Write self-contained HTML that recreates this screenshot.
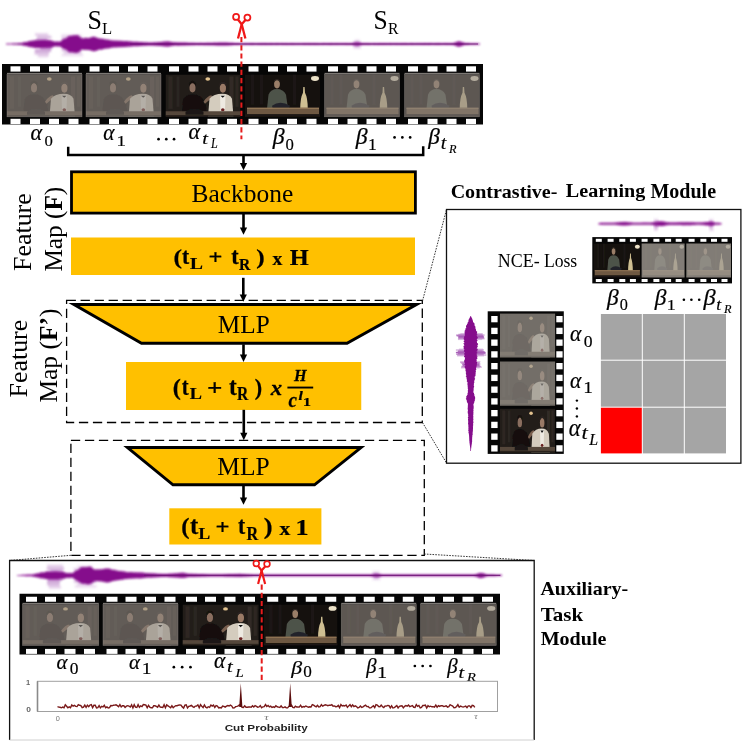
<!DOCTYPE html>
<html><head><meta charset="utf-8"><style>
html,body{margin:0;padding:0;background:#fff;width:745px;height:745px;overflow:hidden}
svg{display:block;will-change:transform}
</style></head><body>
<svg width="745" height="745" viewBox="0 0 745 745">
<defs>
<filter id="bl1" x="-10%" y="-100%" width="120%" height="300%"><feGaussianBlur stdDeviation="0.9"/></filter>
<filter id="bl2" x="-5%" y="-100%" width="110%" height="300%"><feGaussianBlur stdDeviation="1.5"/></filter>
<filter id="blv1" x="-100%" y="-5%" width="300%" height="110%"><feGaussianBlur stdDeviation="0.6"/></filter>
<filter id="blv2" x="-100%" y="-5%" width="300%" height="110%"><feGaussianBlur stdDeviation="1.5"/></filter>
<linearGradient id="hg" x1="0" y1="0" x2="0" y2="1"><stop offset="0" stop-color="#c890d4" stop-opacity="0.15"/><stop offset="0.25" stop-color="#b070c0" stop-opacity="0.8"/><stop offset="0.5" stop-color="#9a40aa" stop-opacity="0.9"/><stop offset="0.75" stop-color="#b070c0" stop-opacity="0.8"/><stop offset="1" stop-color="#c890d4" stop-opacity="0.15"/></linearGradient>
<linearGradient id="hgv" x1="0" y1="0" x2="1" y2="0"><stop offset="0" stop-color="#c890d4" stop-opacity="0.15"/><stop offset="0.25" stop-color="#b070c0" stop-opacity="0.8"/><stop offset="0.5" stop-color="#9a40aa" stop-opacity="0.9"/><stop offset="0.75" stop-color="#b070c0" stop-opacity="0.8"/><stop offset="1" stop-color="#c890d4" stop-opacity="0.15"/></linearGradient>
<filter id="pb" x="-10%" y="-10%" width="120%" height="120%"><feGaussianBlur stdDeviation="0.45"/></filter>
<symbol id="sA" viewBox="0 0 75 42" preserveAspectRatio="none">
  <rect width="75" height="42" fill="#221d19"/>
  <g filter="url(#pb)">
  <rect x="3" y="2" width="4" height="32" fill="#2e2824"/>
  <rect x="11" y="2" width="3" height="30" fill="#2c2622"/>
  <rect x="64" y="2" width="4" height="30" fill="#302a25"/>
  <rect x="70" y="2" width="3" height="30" fill="#2e2824"/>
  <ellipse cx="42.3" cy="4.5" rx="2.4" ry="1.7" fill="#e2c28e"/>
  <path d="M16 42 L17.5 25 Q20 19.5 27 19.5 Q34 19.5 37 24 L40 28 L42 42 Z" fill="#131010"/>
  <ellipse cx="27" cy="13.2" rx="3.0" ry="4.6" fill="#8a6e5e"/>
  <path d="M23.6 12 Q27 4.5 30.4 12 L30.6 8.5 Q27 4 23.4 8.5 Z" fill="#17120f"/>
  <path d="M38 27 Q42 21 46 20.5 L46.5 23.5 Q42.5 26 39.5 29 Z" fill="#7a6050"/>
  <path d="M42.5 42 L44 24 Q48 19 57 19 Q64 19 66.5 24 L68 42 Z" fill="#d4ccbe"/>
  <path d="M54.5 20 L60 20 L59.5 36 L55 36 Z" fill="#eeeae2"/>
  <path d="M55 21 L59.5 21 L57.2 23.2 Z" fill="#111"/>
  <ellipse cx="57.4" cy="13.5" rx="3.1" ry="4.6" fill="#9a7a66"/>
  <path d="M54 12 Q57.4 6 60.8 12 L60.8 9 Q57.4 5.5 54 9 Z" fill="#2a2420"/>
  <ellipse cx="57.3" cy="35" rx="1.8" ry="1.5" fill="#6a2020"/>
  <rect x="0" y="36.5" width="75" height="4" fill="#54463a"/>
  <path d="M20 37 Q29 31 38 37 L38 40 L20 40 Z" fill="#1a1816"/>
  <rect x="0" y="40.3" width="75" height="1.7" fill="#2a231d"/>
  </g>
</symbol>
<symbol id="sB" viewBox="0 0 75 42" preserveAspectRatio="none">
  <rect width="75" height="42" fill="#15110e"/>
  <g filter="url(#pb)">
  <rect x="6" y="0" width="3" height="30" fill="#1d1814"/>
  <rect x="15" y="0" width="3" height="30" fill="#1b1612"/>
  <rect x="48" y="0" width="3" height="30" fill="#1d1814"/>
  <ellipse cx="70" cy="4" rx="4" ry="2.4" fill="#ece2c8"/>
  <path d="M22 34 L23.5 20 Q26 14.5 32 14.5 Q38 14.5 41 20 L43 34 Z" fill="#4e524a"/>
  <ellipse cx="32" cy="9.5" rx="2.9" ry="4.3" fill="#9a7e68"/>
  <path d="M29 8 Q32 3.5 35 8 L35 6 Q32 3 29 6 Z" fill="#2a2420"/>
  <path d="M58 18 L58.3 12.5 L59.6 12.5 L60 18 Q62.8 23 62.8 34.5 L55.2 34.5 Q55.2 23 58 18 Z" fill="#cfbf92"/>
  <path d="M27 31 Q35 25 45 31 L43 35 L28 35 Z" fill="#22242a"/>
  <rect x="2" y="33" width="72" height="6.5" fill="#6e5842"/>
  <rect x="2" y="33" width="72" height="1.2" fill="#927656"/>
  <rect x="0" y="39.5" width="75" height="2.5" fill="#1e1813"/>
  </g>
</symbol>
</defs>
<rect width="745" height="745" fill="#fff"/>
<text transform="translate(87.50 28.63) scale(0.970 1)" font-size="26.77" font-family="Liberation Serif">S</text>
<text transform="translate(101.89 33.70) scale(0.948 1)" font-size="17.56" font-family="Liberation Serif">L</text>
<text transform="translate(373.53 28.63) scale(0.953 1)" font-size="26.77" font-family="Liberation Serif">S</text>
<text transform="translate(388.02 33.70) scale(0.893 1)" font-size="17.56" font-family="Liberation Serif">R</text>
<g filter="url(#bl1)"><rect x="34.90" y="33.00" width="13.30" height="3.07" fill="#a860b8" opacity="0.25"/><rect x="37.14" y="35.67" width="14.20" height="3.07" fill="#a860b8" opacity="0.38"/><rect x="36.20" y="38.33" width="11.33" height="3.07" fill="#a860b8" opacity="0.50"/><rect x="37.86" y="41.00" width="12.69" height="3.07" fill="#a860b8" opacity="0.62"/><rect x="34.54" y="43.67" width="17.34" height="3.07" fill="#a860b8" opacity="0.75"/><rect x="40.24" y="46.33" width="11.58" height="3.07" fill="#a860b8" opacity="0.62"/><rect x="34.87" y="49.00" width="16.16" height="3.07" fill="#a860b8" opacity="0.50"/><rect x="34.61" y="51.67" width="14.38" height="3.07" fill="#a860b8" opacity="0.38"/><rect x="37.77" y="54.33" width="10.80" height="3.07" fill="#a860b8" opacity="0.25"/></g>
<g filter="url(#bl1)"><rect x="61.49" y="34.00" width="19.78" height="2.84" fill="#a860b8" opacity="0.18"/><rect x="61.49" y="36.44" width="20.92" height="2.84" fill="#a860b8" opacity="0.28"/><rect x="62.17" y="38.89" width="20.45" height="2.84" fill="#a860b8" opacity="0.37"/><rect x="62.65" y="41.33" width="15.68" height="2.84" fill="#a860b8" opacity="0.46"/><rect x="61.11" y="43.78" width="22.72" height="2.84" fill="#a860b8" opacity="0.55"/><rect x="65.74" y="46.22" width="14.84" height="2.84" fill="#a860b8" opacity="0.46"/><rect x="61.55" y="48.67" width="19.55" height="2.84" fill="#a860b8" opacity="0.37"/><rect x="63.96" y="51.11" width="17.56" height="2.84" fill="#a860b8" opacity="0.28"/><rect x="61.47" y="53.56" width="21.55" height="2.84" fill="#a860b8" opacity="0.18"/></g>
<g filter="url(#bl1)"><rect x="354.85" y="39.50" width="5.13" height="1.40" fill="#a860b8" opacity="0.17"/><rect x="354.49" y="40.50" width="4.97" height="1.40" fill="#a860b8" opacity="0.25"/><rect x="353.12" y="41.50" width="7.19" height="1.40" fill="#a860b8" opacity="0.33"/><rect x="354.05" y="42.50" width="6.64" height="1.40" fill="#a860b8" opacity="0.42"/><rect x="353.21" y="43.50" width="7.13" height="1.40" fill="#a860b8" opacity="0.50"/><rect x="353.31" y="44.50" width="5.74" height="1.40" fill="#a860b8" opacity="0.42"/><rect x="354.37" y="45.50" width="4.80" height="1.40" fill="#a860b8" opacity="0.33"/><rect x="353.16" y="46.50" width="7.78" height="1.40" fill="#a860b8" opacity="0.25"/><rect x="353.97" y="47.50" width="6.90" height="1.40" fill="#a860b8" opacity="0.17"/></g>
<path d="M6.00 43.61 L6.50 43.60 L7.00 43.59 L7.50 43.61 L8.00 43.58 L8.50 43.53 L9.00 43.52 L9.50 43.51 L10.00 43.49 L10.50 43.48 L11.00 43.44 L11.50 43.41 L12.00 43.42 L12.50 43.35 L13.00 43.33 L13.50 43.31 L14.00 43.31 L14.50 43.28 L15.00 43.21 L15.50 43.26 L16.00 43.15 L16.50 43.17 L17.00 43.16 L17.50 43.16 L18.00 43.12 L18.50 43.10 L19.00 43.07 L19.50 43.08 L20.00 43.06 L20.50 43.03 L21.00 42.99 L21.50 42.89 L22.00 42.85 L22.50 42.63 L23.00 42.62 L23.50 42.43 L24.00 42.33 L24.50 42.09 L25.00 42.06 L25.50 41.97 L26.00 41.91 L26.50 41.96 L27.00 41.89 L27.50 41.66 L28.00 41.59 L28.50 41.28 L29.00 41.31 L29.50 41.11 L30.00 40.86 L30.50 41.00 L31.00 40.89 L31.50 40.85 L32.00 40.62 L32.50 40.73 L33.00 40.71 L33.50 40.30 L34.00 40.39 L34.50 40.36 L35.00 40.47 L35.50 40.16 L36.00 40.14 L36.50 40.12 L37.00 40.10 L37.50 40.41 L38.00 40.10 L38.50 40.29 L39.00 40.13 L39.50 40.22 L40.00 40.21 L40.50 40.23 L41.00 40.01 L41.50 40.09 L42.00 40.20 L42.50 39.97 L43.00 40.25 L43.50 40.01 L44.00 40.18 L44.50 39.95 L45.00 39.96 L45.50 40.22 L46.00 40.00 L46.50 40.34 L47.00 40.24 L47.50 40.15 L48.00 40.46 L48.50 40.22 L49.00 40.24 L49.50 40.55 L50.00 40.27 L50.50 40.50 L51.00 40.56 L51.50 40.49 L52.00 41.01 L52.50 40.86 L53.00 41.20 L53.50 41.20 L54.00 41.40 L54.50 41.52 L55.00 41.66 L55.50 41.68 L56.00 41.57 L56.50 41.51 L57.00 41.48 L57.50 41.48 L58.00 41.48 L58.50 41.74 L59.00 41.69 L59.50 41.55 L60.00 41.62 L60.50 41.45 L61.00 41.28 L61.50 40.79 L62.00 40.37 L62.50 39.81 L63.00 39.59 L63.50 38.86 L64.00 38.81 L64.50 38.86 L65.00 39.04 L65.50 38.64 L66.00 38.20 L66.50 37.55 L67.00 37.71 L67.50 37.26 L68.00 36.13 L68.50 36.60 L69.00 36.12 L69.50 35.91 L70.00 35.61 L70.50 36.00 L71.00 36.05 L71.50 35.42 L72.00 36.02 L72.50 35.68 L73.00 35.22 L73.50 35.14 L74.00 35.47 L74.50 35.35 L75.00 35.38 L75.50 35.30 L76.00 35.19 L76.50 35.66 L77.00 35.28 L77.50 34.83 L78.00 35.11 L78.50 36.08 L79.00 36.61 L79.50 36.56 L80.00 36.90 L80.50 37.37 L81.00 38.18 L81.50 38.47 L82.00 38.01 L82.50 38.48 L83.00 37.92 L83.50 38.50 L84.00 38.41 L84.50 38.00 L85.00 37.78 L85.50 37.86 L86.00 37.86 L86.50 37.88 L87.00 37.84 L87.50 38.32 L88.00 37.95 L88.50 38.16 L89.00 38.09 L89.50 37.62 L90.00 37.79 L90.50 37.66 L91.00 37.73 L91.50 36.87 L92.00 36.91 L92.50 36.83 L93.00 36.74 L93.50 36.84 L94.00 36.46 L94.50 37.18 L95.00 36.56 L95.50 37.10 L96.00 37.47 L96.50 37.64 L97.00 37.74 L97.50 37.66 L98.00 38.13 L98.50 38.21 L99.00 38.22 L99.50 38.56 L100.00 38.41 L100.50 38.64 L101.00 38.60 L101.50 38.80 L102.00 38.70 L102.50 38.83 L103.00 38.76 L103.50 39.10 L104.00 39.01 L104.50 39.20 L105.00 39.44 L105.50 39.62 L106.00 39.41 L106.50 39.32 L107.00 39.71 L107.50 39.75 L108.00 39.46 L108.50 39.85 L109.00 39.90 L109.50 39.79 L110.00 40.20 L110.50 40.20 L111.00 40.16 L111.50 40.52 L112.00 40.42 L112.50 40.60 L113.00 40.36 L113.50 40.59 L114.00 40.75 L114.50 40.84 L115.00 40.54 L115.50 40.53 L116.00 40.60 L116.50 40.80 L117.00 40.67 L117.50 40.84 L118.00 40.59 L118.50 40.77 L119.00 40.81 L119.50 40.74 L120.00 40.82 L120.50 40.82 L121.00 41.01 L121.50 40.86 L122.00 40.78 L122.50 41.01 L123.00 40.93 L123.50 40.93 L124.00 41.06 L124.50 41.15 L125.00 40.91 L125.50 40.92 L126.00 41.11 L126.50 40.92 L127.00 41.08 L127.50 41.03 L128.00 41.23 L128.50 41.21 L129.00 41.33 L129.50 41.46 L130.00 41.52 L130.50 41.37 L131.00 41.61 L131.50 41.60 L132.00 41.54 L132.50 41.65 L133.00 41.74 L133.50 41.74 L134.00 41.86 L134.50 41.72 L135.00 41.72 L135.50 41.68 L136.00 41.80 L136.50 41.78 L137.00 41.79 L137.50 41.76 L138.00 41.85 L138.50 42.02 L139.00 41.88 L139.50 41.95 L140.00 42.06 L140.50 42.12 L141.00 42.01 L141.50 42.07 L142.00 42.03 L142.50 42.09 L143.00 42.28 L143.50 42.28 L144.00 42.25 L144.50 42.32 L145.00 42.28 L145.50 42.28 L146.00 42.29 L146.50 42.36 L147.00 42.37 L147.50 42.38 L148.00 42.42 L148.50 42.55 L149.00 42.57 L149.50 42.56 L150.00 42.46 L150.50 42.51 L151.00 42.52 L151.50 42.42 L152.00 42.51 L152.50 42.38 L153.00 42.42 L153.50 42.34 L154.00 42.42 L154.50 42.23 L155.00 42.26 L155.50 42.27 L156.00 42.20 L156.50 42.25 L157.00 42.18 L157.50 42.18 L158.00 42.06 L158.50 41.98 L159.00 42.04 L159.50 42.12 L160.00 42.07 L160.50 42.00 L161.00 41.94 L161.50 42.02 L162.00 41.82 L162.50 41.75 L163.00 41.65 L163.50 41.77 L164.00 41.55 L164.50 41.62 L165.00 41.46 L165.50 41.44 L166.00 41.58 L166.50 41.51 L167.00 41.54 L167.50 41.29 L168.00 41.30 L168.50 41.40 L169.00 41.43 L169.50 41.69 L170.00 41.59 L170.50 41.86 L171.00 42.00 L171.50 42.03 L172.00 41.99 L172.50 42.12 L173.00 42.17 L173.50 42.22 L174.00 42.37 L174.50 42.33 L175.00 42.44 L175.50 42.36 L176.00 42.36 L176.50 42.41 L177.00 42.37 L177.50 42.42 L178.00 42.39 L178.50 42.48 L179.00 42.41 L179.50 42.37 L180.00 42.38 L180.50 42.49 L181.00 42.55 L181.50 42.40 L182.00 42.48 L182.50 42.58 L183.00 42.57 L183.50 42.60 L184.00 42.53 L184.50 42.61 L185.00 42.62 L185.50 42.60 L186.00 42.59 L186.50 42.61 L187.00 42.69 L187.50 42.60 L188.00 42.74 L188.50 42.73 L189.00 42.76 L189.50 42.75 L190.00 42.71 L190.50 42.70 L191.00 42.78 L191.50 42.77 L192.00 42.73 L192.50 42.75 L193.00 42.80 L193.50 42.78 L194.00 42.85 L194.50 42.90 L195.00 42.82 L195.50 42.84 L196.00 42.90 L196.50 42.81 L197.00 42.89 L197.50 42.92 L198.00 42.83 L198.50 42.85 L199.00 42.88 L199.50 42.89 L200.00 42.84 L200.50 42.84 L201.00 42.86 L201.50 42.83 L202.00 42.92 L202.50 42.93 L203.00 42.85 L203.50 42.87 L204.00 42.93 L204.50 42.89 L205.00 42.87 L205.50 42.81 L206.00 42.89 L206.50 42.83 L207.00 42.86 L207.50 42.77 L208.00 42.72 L208.50 42.80 L209.00 42.79 L209.50 42.75 L210.00 42.76 L210.50 42.76 L211.00 42.65 L211.50 42.73 L212.00 42.64 L212.50 42.73 L213.00 42.66 L213.50 42.72 L214.00 42.59 L214.50 42.54 L215.00 42.53 L215.50 42.65 L216.00 42.60 L216.50 42.65 L217.00 42.64 L217.50 42.60 L218.00 42.56 L218.50 42.62 L219.00 42.51 L219.50 42.45 L220.00 42.56 L220.50 42.47 L221.00 42.51 L221.50 42.50 L222.00 42.56 L222.50 42.47 L223.00 42.43 L223.50 42.47 L224.00 42.45 L224.50 42.53 L225.00 42.58 L225.50 42.50 L226.00 42.54 L226.50 42.59 L227.00 42.53 L227.50 42.53 L228.00 42.66 L228.50 42.66 L229.00 42.62 L229.50 42.68 L230.00 42.71 L230.50 42.75 L231.00 42.74 L231.50 42.86 L232.00 42.84 L232.50 42.80 L233.00 42.86 L233.50 42.85 L234.00 42.94 L234.50 42.98 L235.00 42.92 L235.50 43.02 L236.00 43.04 L236.50 43.06 L237.00 43.10 L237.50 43.10 L238.00 43.07 L238.50 43.05 L239.00 43.06 L239.50 43.12 L240.00 43.15 L240.50 43.10 L241.00 43.10 L241.50 43.13 L242.00 43.14 L242.50 43.13 L243.00 43.08 L243.50 43.14 L244.00 43.07 L244.50 43.13 L245.00 43.06 L245.50 43.05 L246.00 43.11 L246.50 43.11 L247.00 43.12 L247.50 43.14 L248.00 43.12 L248.50 43.15 L249.00 43.05 L249.50 43.05 L250.00 43.12 L250.50 43.10 L251.00 43.12 L251.50 43.12 L252.00 43.07 L252.50 43.10 L253.00 43.11 L253.50 43.06 L254.00 43.09 L254.50 43.06 L255.00 43.05 L255.50 43.14 L256.00 43.13 L256.50 43.05 L257.00 43.06 L257.50 43.15 L258.00 43.07 L258.50 43.08 L259.00 43.07 L259.50 43.10 L260.00 43.14 L260.50 43.12 L261.00 43.11 L261.50 43.12 L262.00 43.05 L262.50 43.06 L263.00 43.12 L263.50 43.12 L264.00 43.10 L264.50 43.12 L265.00 43.12 L265.50 43.11 L266.00 43.10 L266.50 43.05 L267.00 43.11 L267.50 43.15 L268.00 43.06 L268.50 43.15 L269.00 43.11 L269.50 43.11 L270.00 43.09 L270.50 43.11 L271.00 43.08 L271.50 43.12 L272.00 43.11 L272.50 43.08 L273.00 43.09 L273.50 43.13 L274.00 43.09 L274.50 43.15 L275.00 43.12 L275.50 43.10 L276.00 43.10 L276.50 43.06 L277.00 43.06 L277.50 43.08 L278.00 43.06 L278.50 43.10 L279.00 43.12 L279.50 43.07 L280.00 43.14 L280.50 43.12 L281.00 43.06 L281.50 43.12 L282.00 43.10 L282.50 43.09 L283.00 43.11 L283.50 43.05 L284.00 43.14 L284.50 43.07 L285.00 43.15 L285.50 43.10 L286.00 43.06 L286.50 43.12 L287.00 43.09 L287.50 43.13 L288.00 43.14 L288.50 43.15 L289.00 43.10 L289.50 43.14 L290.00 43.10 L290.50 43.10 L291.00 43.05 L291.50 43.10 L292.00 43.12 L292.50 43.14 L293.00 43.09 L293.50 43.07 L294.00 43.06 L294.50 43.13 L295.00 43.11 L295.50 43.13 L296.00 43.13 L296.50 43.05 L297.00 43.06 L297.50 43.13 L298.00 43.15 L298.50 43.11 L299.00 43.06 L299.50 43.11 L300.00 43.13 L300.50 43.13 L301.00 43.12 L301.50 43.13 L302.00 43.09 L302.50 43.08 L303.00 43.08 L303.50 43.14 L304.00 43.11 L304.50 43.09 L305.00 43.11 L305.50 43.07 L306.00 43.10 L306.50 43.13 L307.00 43.08 L307.50 43.07 L308.00 43.12 L308.50 43.10 L309.00 43.08 L309.50 43.07 L310.00 43.14 L310.50 43.06 L311.00 43.10 L311.50 43.11 L312.00 43.09 L312.50 43.13 L313.00 43.07 L313.50 43.12 L314.00 43.06 L314.50 43.05 L315.00 43.07 L315.50 43.15 L316.00 43.07 L316.50 43.10 L317.00 43.13 L317.50 43.09 L318.00 43.14 L318.50 43.12 L319.00 43.14 L319.50 43.13 L320.00 43.09 L320.50 43.15 L321.00 43.13 L321.50 43.14 L322.00 43.10 L322.50 43.06 L323.00 43.11 L323.50 43.12 L324.00 43.05 L324.50 43.05 L325.00 43.11 L325.50 43.05 L326.00 43.09 L326.50 43.13 L327.00 43.05 L327.50 43.07 L328.00 43.14 L328.50 43.07 L329.00 43.10 L329.50 43.12 L330.00 43.14 L330.50 43.12 L331.00 43.11 L331.50 43.07 L332.00 43.08 L332.50 43.07 L333.00 43.10 L333.50 43.11 L334.00 43.14 L334.50 43.13 L335.00 43.10 L335.50 43.06 L336.00 43.11 L336.50 43.09 L337.00 43.05 L337.50 43.14 L338.00 43.07 L338.50 43.07 L339.00 43.10 L339.50 43.09 L340.00 43.14 L340.50 43.06 L341.00 43.15 L341.50 43.07 L342.00 43.10 L342.50 43.09 L343.00 43.08 L343.50 43.12 L344.00 43.14 L344.50 43.10 L345.00 43.05 L345.50 43.07 L346.00 43.07 L346.50 43.08 L347.00 43.13 L347.50 43.07 L348.00 43.13 L348.50 43.14 L349.00 43.09 L349.50 43.09 L350.00 43.15 L350.50 43.11 L351.00 43.06 L351.50 43.00 L352.00 42.96 L352.50 42.92 L353.00 42.89 L353.50 42.76 L354.00 42.80 L354.50 42.66 L355.00 42.63 L355.50 42.49 L356.00 42.56 L356.50 42.58 L357.00 42.50 L357.50 42.43 L358.00 42.62 L358.50 42.66 L359.00 42.56 L359.50 42.75 L360.00 42.77 L360.50 42.83 L361.00 42.91 L361.50 42.98 L362.00 43.04 L362.50 43.07 L363.00 43.04 L363.50 43.06 L364.00 43.09 L364.50 43.08 L365.00 43.05 L365.50 43.15 L366.00 43.05 L366.50 43.08 L367.00 43.11 L367.50 43.09 L368.00 43.12 L368.50 43.13 L369.00 43.13 L369.50 43.08 L370.00 43.05 L370.50 43.13 L371.00 43.15 L371.50 43.09 L372.00 43.13 L372.50 43.14 L373.00 43.10 L373.50 43.06 L374.00 43.12 L374.50 43.15 L375.00 43.07 L375.50 43.08 L376.00 43.13 L376.50 43.13 L377.00 43.08 L377.50 43.14 L378.00 43.10 L378.50 43.10 L379.00 43.13 L379.50 43.08 L380.00 43.06 L380.50 43.06 L381.00 43.08 L381.50 43.14 L382.00 43.06 L382.50 43.09 L383.00 43.12 L383.50 43.06 L384.00 43.14 L384.50 43.06 L385.00 43.12 L385.50 43.05 L386.00 43.15 L386.50 43.12 L387.00 43.05 L387.50 43.14 L388.00 43.13 L388.50 43.05 L389.00 43.06 L389.50 43.12 L390.00 43.10 L390.50 43.11 L391.00 43.12 L391.50 43.05 L392.00 43.07 L392.50 43.13 L393.00 43.14 L393.50 43.06 L394.00 43.09 L394.50 43.11 L395.00 43.06 L395.50 43.12 L396.00 43.13 L396.50 43.12 L397.00 43.14 L397.50 43.11 L398.00 43.08 L398.50 43.13 L399.00 43.09 L399.50 43.06 L400.00 43.14 L400.50 43.14 L401.00 43.10 L401.50 43.12 L402.00 43.10 L402.50 43.11 L403.00 43.10 L403.50 43.14 L404.00 43.10 L404.50 43.10 L405.00 43.11 L405.50 43.11 L406.00 43.10 L406.50 43.10 L407.00 43.10 L407.50 43.13 L408.00 43.14 L408.50 43.14 L409.00 43.13 L409.50 43.10 L410.00 43.06 L410.50 43.05 L411.00 43.11 L411.50 43.07 L412.00 43.07 L412.50 43.05 L413.00 43.06 L413.50 43.15 L414.00 43.14 L414.50 43.06 L415.00 43.08 L415.50 43.13 L416.00 43.15 L416.50 43.05 L417.00 43.08 L417.50 43.09 L418.00 43.08 L418.50 43.13 L419.00 43.05 L419.50 43.09 L420.00 43.06 L420.50 43.10 L421.00 43.14 L421.50 43.07 L422.00 43.12 L422.50 43.14 L423.00 43.11 L423.50 43.10 L424.00 43.12 L424.50 43.07 L425.00 43.12 L425.50 43.05 L426.00 43.09 L426.50 43.05 L427.00 43.13 L427.50 43.12 L428.00 43.11 L428.50 43.08 L429.00 43.08 L429.50 43.09 L430.00 43.10 L430.50 43.06 L431.00 43.07 L431.50 43.06 L432.00 43.10 L432.50 43.08 L433.00 43.13 L433.50 43.09 L434.00 43.15 L434.50 43.13 L435.00 43.10 L435.50 43.12 L436.00 43.07 L436.50 43.15 L437.00 43.10 L437.50 43.07 L438.00 43.12 L438.50 43.09 L439.00 43.06 L439.50 43.12 L440.00 43.09 L440.50 43.10 L441.00 43.15 L441.50 43.14 L442.00 43.06 L442.50 43.13 L443.00 43.09 L443.50 43.07 L444.00 43.05 L444.50 43.12 L445.00 43.06 L445.50 43.09 L446.00 43.11 L446.50 43.15 L447.00 43.06 L447.50 43.08 L448.00 43.05 L448.50 43.12 L449.00 43.13 L449.50 43.14 L450.00 43.11 L450.50 43.07 L451.00 43.06 L451.50 43.13 L452.00 43.11 L452.50 43.03 L453.00 42.95 L453.50 42.92 L454.00 42.73 L454.50 42.63 L455.00 42.41 L455.50 42.17 L456.00 42.03 L456.50 41.97 L457.00 41.74 L457.50 41.49 L458.00 41.38 L458.50 41.53 L459.00 41.30 L459.50 41.34 L460.00 41.58 L460.50 41.68 L461.00 41.72 L461.50 41.93 L462.00 41.98 L462.50 42.28 L463.00 42.44 L463.50 42.60 L464.00 42.69 L464.50 42.87 L465.00 43.04 L465.50 43.04 L466.00 43.13 L466.50 43.10 L467.00 43.09 L467.50 43.09 L468.00 43.07 L468.50 43.12 L469.00 43.12 L469.50 43.11 L470.00 43.13 L470.50 43.16 L471.00 43.18 L471.50 43.20 L472.00 43.18 L472.50 43.24 L473.00 43.26 L473.50 43.30 L474.00 43.26 L474.50 43.33 L475.00 43.35 L475.50 43.33 L476.00 43.35 L476.50 43.34 L477.00 43.34 L477.50 43.34 L478.00 43.41 L478.50 43.42 L479.00 43.38 L479.50 43.40 L480.00 43.39 L480.00 44.59 L479.50 44.63 L479.00 44.58 L478.50 44.59 L478.00 44.65 L477.50 44.62 L477.00 44.62 L476.50 44.63 L476.00 44.69 L475.50 44.64 L475.00 44.69 L474.50 44.73 L474.00 44.74 L473.50 44.77 L473.00 44.75 L472.50 44.79 L472.00 44.81 L471.50 44.77 L471.00 44.78 L470.50 44.81 L470.00 44.85 L469.50 44.81 L469.00 44.87 L468.50 44.92 L468.00 44.84 L467.50 44.92 L467.00 44.89 L466.50 44.89 L466.00 44.92 L465.50 44.94 L465.00 45.02 L464.50 45.07 L464.00 45.29 L463.50 45.36 L463.00 45.60 L462.50 45.76 L462.00 45.97 L461.50 46.05 L461.00 46.35 L460.50 46.47 L460.00 46.55 L459.50 46.54 L459.00 46.75 L458.50 46.68 L458.00 46.62 L457.50 46.42 L457.00 46.39 L456.50 46.12 L456.00 45.93 L455.50 45.65 L455.00 45.52 L454.50 45.37 L454.00 45.28 L453.50 45.10 L453.00 45.02 L452.50 44.95 L452.00 44.92 L451.50 44.89 L451.00 44.85 L450.50 44.92 L450.00 44.94 L449.50 44.93 L449.00 44.93 L448.50 44.86 L448.00 44.87 L447.50 44.91 L447.00 44.95 L446.50 44.95 L446.00 44.92 L445.50 44.86 L445.00 44.93 L444.50 44.87 L444.00 44.86 L443.50 44.87 L443.00 44.85 L442.50 44.92 L442.00 44.91 L441.50 44.86 L441.00 44.85 L440.50 44.88 L440.00 44.89 L439.50 44.85 L439.00 44.90 L438.50 44.90 L438.00 44.91 L437.50 44.88 L437.00 44.85 L436.50 44.89 L436.00 44.92 L435.50 44.92 L435.00 44.91 L434.50 44.95 L434.00 44.87 L433.50 44.91 L433.00 44.86 L432.50 44.87 L432.00 44.89 L431.50 44.85 L431.00 44.88 L430.50 44.87 L430.00 44.90 L429.50 44.90 L429.00 44.91 L428.50 44.90 L428.00 44.95 L427.50 44.91 L427.00 44.86 L426.50 44.89 L426.00 44.89 L425.50 44.92 L425.00 44.85 L424.50 44.93 L424.00 44.88 L423.50 44.92 L423.00 44.89 L422.50 44.94 L422.00 44.87 L421.50 44.94 L421.00 44.92 L420.50 44.92 L420.00 44.89 L419.50 44.86 L419.00 44.87 L418.50 44.90 L418.00 44.85 L417.50 44.93 L417.00 44.93 L416.50 44.87 L416.00 44.90 L415.50 44.92 L415.00 44.85 L414.50 44.88 L414.00 44.86 L413.50 44.94 L413.00 44.91 L412.50 44.92 L412.00 44.93 L411.50 44.89 L411.00 44.86 L410.50 44.85 L410.00 44.94 L409.50 44.94 L409.00 44.85 L408.50 44.93 L408.00 44.94 L407.50 44.95 L407.00 44.92 L406.50 44.89 L406.00 44.90 L405.50 44.85 L405.00 44.89 L404.50 44.94 L404.00 44.89 L403.50 44.94 L403.00 44.86 L402.50 44.93 L402.00 44.93 L401.50 44.88 L401.00 44.89 L400.50 44.88 L400.00 44.88 L399.50 44.88 L399.00 44.85 L398.50 44.86 L398.00 44.91 L397.50 44.88 L397.00 44.94 L396.50 44.92 L396.00 44.95 L395.50 44.95 L395.00 44.87 L394.50 44.85 L394.00 44.86 L393.50 44.94 L393.00 44.95 L392.50 44.87 L392.00 44.85 L391.50 44.93 L391.00 44.94 L390.50 44.90 L390.00 44.91 L389.50 44.87 L389.00 44.88 L388.50 44.87 L388.00 44.87 L387.50 44.94 L387.00 44.88 L386.50 44.89 L386.00 44.95 L385.50 44.87 L385.00 44.89 L384.50 44.89 L384.00 44.87 L383.50 44.89 L383.00 44.94 L382.50 44.95 L382.00 44.86 L381.50 44.93 L381.00 44.95 L380.50 44.93 L380.00 44.87 L379.50 44.92 L379.00 44.89 L378.50 44.89 L378.00 44.89 L377.50 44.93 L377.00 44.92 L376.50 44.91 L376.00 44.87 L375.50 44.88 L375.00 44.89 L374.50 44.93 L374.00 44.89 L373.50 44.91 L373.00 44.87 L372.50 44.87 L372.00 44.87 L371.50 44.91 L371.00 44.87 L370.50 44.88 L370.00 44.90 L369.50 44.93 L369.00 44.88 L368.50 44.90 L368.00 44.93 L367.50 44.85 L367.00 44.90 L366.50 44.91 L366.00 44.89 L365.50 44.92 L365.00 44.85 L364.50 44.90 L364.00 44.85 L363.50 44.91 L363.00 44.94 L362.50 44.92 L362.00 45.08 L361.50 45.13 L361.00 45.15 L360.50 45.17 L360.00 45.26 L359.50 45.35 L359.00 45.45 L358.50 45.46 L358.00 45.46 L357.50 45.48 L357.00 45.45 L356.50 45.49 L356.00 45.55 L355.50 45.37 L355.00 45.32 L354.50 45.34 L354.00 45.33 L353.50 45.20 L353.00 45.08 L352.50 45.07 L352.00 45.05 L351.50 44.98 L351.00 44.91 L350.50 44.88 L350.00 44.85 L349.50 44.88 L349.00 44.90 L348.50 44.88 L348.00 44.89 L347.50 44.88 L347.00 44.89 L346.50 44.88 L346.00 44.89 L345.50 44.89 L345.00 44.86 L344.50 44.88 L344.00 44.85 L343.50 44.92 L343.00 44.85 L342.50 44.87 L342.00 44.95 L341.50 44.89 L341.00 44.85 L340.50 44.86 L340.00 44.91 L339.50 44.86 L339.00 44.92 L338.50 44.86 L338.00 44.90 L337.50 44.95 L337.00 44.87 L336.50 44.93 L336.00 44.85 L335.50 44.92 L335.00 44.95 L334.50 44.93 L334.00 44.92 L333.50 44.85 L333.00 44.91 L332.50 44.87 L332.00 44.89 L331.50 44.90 L331.00 44.94 L330.50 44.90 L330.00 44.92 L329.50 44.93 L329.00 44.95 L328.50 44.87 L328.00 44.92 L327.50 44.94 L327.00 44.93 L326.50 44.87 L326.00 44.90 L325.50 44.87 L325.00 44.87 L324.50 44.90 L324.00 44.86 L323.50 44.88 L323.00 44.85 L322.50 44.90 L322.00 44.95 L321.50 44.86 L321.00 44.90 L320.50 44.90 L320.00 44.86 L319.50 44.89 L319.00 44.89 L318.50 44.92 L318.00 44.91 L317.50 44.89 L317.00 44.92 L316.50 44.91 L316.00 44.88 L315.50 44.92 L315.00 44.88 L314.50 44.94 L314.00 44.90 L313.50 44.94 L313.00 44.91 L312.50 44.86 L312.00 44.93 L311.50 44.90 L311.00 44.94 L310.50 44.90 L310.00 44.90 L309.50 44.91 L309.00 44.88 L308.50 44.87 L308.00 44.95 L307.50 44.95 L307.00 44.87 L306.50 44.94 L306.00 44.91 L305.50 44.94 L305.00 44.85 L304.50 44.91 L304.00 44.90 L303.50 44.93 L303.00 44.91 L302.50 44.87 L302.00 44.87 L301.50 44.89 L301.00 44.86 L300.50 44.92 L300.00 44.87 L299.50 44.89 L299.00 44.85 L298.50 44.94 L298.00 44.90 L297.50 44.87 L297.00 44.89 L296.50 44.86 L296.00 44.93 L295.50 44.94 L295.00 44.88 L294.50 44.85 L294.00 44.93 L293.50 44.94 L293.00 44.88 L292.50 44.90 L292.00 44.94 L291.50 44.87 L291.00 44.92 L290.50 44.88 L290.00 44.94 L289.50 44.87 L289.00 44.91 L288.50 44.95 L288.00 44.92 L287.50 44.89 L287.00 44.94 L286.50 44.89 L286.00 44.94 L285.50 44.89 L285.00 44.85 L284.50 44.95 L284.00 44.89 L283.50 44.92 L283.00 44.86 L282.50 44.92 L282.00 44.89 L281.50 44.89 L281.00 44.87 L280.50 44.85 L280.00 44.85 L279.50 44.91 L279.00 44.87 L278.50 44.94 L278.00 44.89 L277.50 44.86 L277.00 44.89 L276.50 44.94 L276.00 44.93 L275.50 44.95 L275.00 44.85 L274.50 44.88 L274.00 44.86 L273.50 44.89 L273.00 44.86 L272.50 44.94 L272.00 44.89 L271.50 44.90 L271.00 44.89 L270.50 44.94 L270.00 44.94 L269.50 44.87 L269.00 44.95 L268.50 44.94 L268.00 44.93 L267.50 44.89 L267.00 44.91 L266.50 44.90 L266.00 44.94 L265.50 44.90 L265.00 44.95 L264.50 44.92 L264.00 44.93 L263.50 44.86 L263.00 44.95 L262.50 44.94 L262.00 44.95 L261.50 44.91 L261.00 44.88 L260.50 44.90 L260.00 44.91 L259.50 44.89 L259.00 44.86 L258.50 44.90 L258.00 44.95 L257.50 44.94 L257.00 44.86 L256.50 44.89 L256.00 44.85 L255.50 44.87 L255.00 44.94 L254.50 44.87 L254.00 44.95 L253.50 44.87 L253.00 44.90 L252.50 44.90 L252.00 44.91 L251.50 44.93 L251.00 44.85 L250.50 44.92 L250.00 44.95 L249.50 44.87 L249.00 44.95 L248.50 44.87 L248.00 44.94 L247.50 44.86 L247.00 44.86 L246.50 44.95 L246.00 44.86 L245.50 44.90 L245.00 44.85 L244.50 44.93 L244.00 44.87 L243.50 44.85 L243.00 44.92 L242.50 44.95 L242.00 44.94 L241.50 44.95 L241.00 44.85 L240.50 44.87 L240.00 44.87 L239.50 44.95 L239.00 44.85 L238.50 44.93 L238.00 44.95 L237.50 44.89 L237.00 44.92 L236.50 45.02 L236.00 44.94 L235.50 44.99 L235.00 45.08 L234.50 45.02 L234.00 45.11 L233.50 45.05 L233.00 45.08 L232.50 45.21 L232.00 45.18 L231.50 45.22 L231.00 45.29 L230.50 45.22 L230.00 45.29 L229.50 45.23 L229.00 45.40 L228.50 45.41 L228.00 45.38 L227.50 45.34 L227.00 45.41 L226.50 45.43 L226.00 45.43 L225.50 45.55 L225.00 45.42 L224.50 45.49 L224.00 45.51 L223.50 45.58 L223.00 45.49 L222.50 45.57 L222.00 45.41 L221.50 45.46 L221.00 45.55 L220.50 45.54 L220.00 45.42 L219.50 45.53 L219.00 45.50 L218.50 45.45 L218.00 45.41 L217.50 45.49 L217.00 45.40 L216.50 45.43 L216.00 45.38 L215.50 45.32 L215.00 45.31 L214.50 45.42 L214.00 45.36 L213.50 45.30 L213.00 45.29 L212.50 45.33 L212.00 45.24 L211.50 45.26 L211.00 45.33 L210.50 45.27 L210.00 45.31 L209.50 45.25 L209.00 45.23 L208.50 45.17 L208.00 45.27 L207.50 45.27 L207.00 45.23 L206.50 45.12 L206.00 45.14 L205.50 45.13 L205.00 45.18 L204.50 45.13 L204.00 45.17 L203.50 45.14 L203.00 45.09 L202.50 45.06 L202.00 45.17 L201.50 45.16 L201.00 45.09 L200.50 45.10 L200.00 45.15 L199.50 45.09 L199.00 45.16 L198.50 45.17 L198.00 45.14 L197.50 45.07 L197.00 45.06 L196.50 45.10 L196.00 45.11 L195.50 45.16 L195.00 45.14 L194.50 45.17 L194.00 45.17 L193.50 45.12 L193.00 45.19 L192.50 45.17 L192.00 45.23 L191.50 45.18 L191.00 45.26 L190.50 45.32 L190.00 45.30 L189.50 45.34 L189.00 45.30 L188.50 45.38 L188.00 45.41 L187.50 45.29 L187.00 45.30 L186.50 45.33 L186.00 45.44 L185.50 45.46 L185.00 45.43 L184.50 45.52 L184.00 45.37 L183.50 45.49 L183.00 45.40 L182.50 45.52 L182.00 45.43 L181.50 45.44 L181.00 45.51 L180.50 45.51 L180.00 45.59 L179.50 45.55 L179.00 45.64 L178.50 45.64 L178.00 45.50 L177.50 45.64 L177.00 45.50 L176.50 45.53 L176.00 45.58 L175.50 45.62 L175.00 45.54 L174.50 45.61 L174.00 45.59 L173.50 45.66 L173.00 45.77 L172.50 45.88 L172.00 45.84 L171.50 46.05 L171.00 46.07 L170.50 46.29 L170.00 46.17 L169.50 46.40 L169.00 46.31 L168.50 46.63 L168.00 46.55 L167.50 46.50 L167.00 46.65 L166.50 46.45 L166.00 46.44 L165.50 46.38 L165.00 46.62 L164.50 46.31 L164.00 46.40 L163.50 46.24 L163.00 46.18 L162.50 46.17 L162.00 46.06 L161.50 45.96 L161.00 46.00 L160.50 45.93 L160.00 45.90 L159.50 46.11 L159.00 45.96 L158.50 45.86 L158.00 45.93 L157.50 45.81 L157.00 45.89 L156.50 45.77 L156.00 45.75 L155.50 45.72 L155.00 45.69 L154.50 45.64 L154.00 45.62 L153.50 45.59 L153.00 45.61 L152.50 45.55 L152.00 45.63 L151.50 45.51 L151.00 45.51 L150.50 45.53 L150.00 45.51 L149.50 45.50 L149.00 45.45 L148.50 45.44 L148.00 45.53 L147.50 45.54 L147.00 45.65 L146.50 45.57 L146.00 45.66 L145.50 45.67 L145.00 45.61 L144.50 45.79 L144.00 45.84 L143.50 45.69 L143.00 45.78 L142.50 45.88 L142.00 45.80 L141.50 46.03 L141.00 45.94 L140.50 45.99 L140.00 46.03 L139.50 46.04 L139.00 46.08 L138.50 46.17 L138.00 46.19 L137.50 46.14 L137.00 46.11 L136.50 46.31 L136.00 46.21 L135.50 46.17 L135.00 46.30 L134.50 46.08 L134.00 46.16 L133.50 46.27 L133.00 46.20 L132.50 46.23 L132.00 46.44 L131.50 46.50 L131.00 46.39 L130.50 46.61 L130.00 46.48 L129.50 46.59 L129.00 46.83 L128.50 46.87 L128.00 46.79 L127.50 46.82 L127.00 46.83 L126.50 46.79 L126.00 46.94 L125.50 46.94 L125.00 47.02 L124.50 47.08 L124.00 46.89 L123.50 47.00 L123.00 47.05 L122.50 47.13 L122.00 46.93 L121.50 46.95 L121.00 47.25 L120.50 47.18 L120.00 47.03 L119.50 47.24 L119.00 47.14 L118.50 47.07 L118.00 47.30 L117.50 47.35 L117.00 47.39 L116.50 47.35 L116.00 47.39 L115.50 47.25 L115.00 47.14 L114.50 47.46 L114.00 47.41 L113.50 47.23 L113.00 47.41 L112.50 47.56 L112.00 47.61 L111.50 47.63 L111.00 47.88 L110.50 47.83 L110.00 48.16 L109.50 47.89 L109.00 48.15 L108.50 48.46 L108.00 48.56 L107.50 48.52 L107.00 48.33 L106.50 48.35 L106.00 48.75 L105.50 48.64 L105.00 48.43 L104.50 48.93 L104.00 48.73 L103.50 49.04 L103.00 49.08 L102.50 49.39 L102.00 49.38 L101.50 49.75 L101.00 49.70 L100.50 49.48 L100.00 49.52 L99.50 49.31 L99.00 49.56 L98.50 50.10 L98.00 50.16 L97.50 50.54 L97.00 50.19 L96.50 50.67 L96.00 50.60 L95.50 51.13 L95.00 51.10 L94.50 51.38 L94.00 50.90 L93.50 51.30 L93.00 51.13 L92.50 51.23 L92.00 50.61 L91.50 50.68 L91.00 50.60 L90.50 50.39 L90.00 50.23 L89.50 50.11 L89.00 50.17 L88.50 49.79 L88.00 50.24 L87.50 49.87 L87.00 50.30 L86.50 49.69 L86.00 49.96 L85.50 49.60 L85.00 49.96 L84.50 50.11 L84.00 50.09 L83.50 50.07 L83.00 49.59 L82.50 49.52 L82.00 49.48 L81.50 49.63 L81.00 50.18 L80.50 50.50 L80.00 50.99 L79.50 51.64 L79.00 52.04 L78.50 52.12 L78.00 52.78 L77.50 52.58 L77.00 53.20 L76.50 52.71 L76.00 52.98 L75.50 52.47 L75.00 52.90 L74.50 52.86 L74.00 52.47 L73.50 52.68 L73.00 52.37 L72.50 52.55 L72.00 52.08 L71.50 52.24 L71.00 52.38 L70.50 52.14 L70.00 52.16 L69.50 52.38 L69.00 51.88 L68.50 51.79 L68.00 51.76 L67.50 50.69 L67.00 50.35 L66.50 49.87 L66.00 49.84 L65.50 49.53 L65.00 49.10 L64.50 49.29 L64.00 48.70 L63.50 49.07 L63.00 48.75 L62.50 48.34 L62.00 47.57 L61.50 47.33 L61.00 46.93 L60.50 46.46 L60.00 46.53 L59.50 46.41 L59.00 46.34 L58.50 46.47 L58.00 46.42 L57.50 46.51 L57.00 46.46 L56.50 46.27 L56.00 46.34 L55.50 46.28 L55.00 46.35 L54.50 46.44 L54.00 46.63 L53.50 46.57 L53.00 46.97 L52.50 47.18 L52.00 47.35 L51.50 47.20 L51.00 47.44 L50.50 47.53 L50.00 47.50 L49.50 47.52 L49.00 47.55 L48.50 47.71 L48.00 47.58 L47.50 47.86 L47.00 47.61 L46.50 47.61 L46.00 47.80 L45.50 47.92 L45.00 47.72 L44.50 47.87 L44.00 47.82 L43.50 47.71 L43.00 47.87 L42.50 47.77 L42.00 47.76 L41.50 47.99 L41.00 47.65 L40.50 47.80 L40.00 47.89 L39.50 47.75 L39.00 47.75 L38.50 47.80 L38.00 48.03 L37.50 47.61 L37.00 47.91 L36.50 47.73 L36.00 47.78 L35.50 47.58 L35.00 47.79 L34.50 47.71 L34.00 47.38 L33.50 47.51 L33.00 47.32 L32.50 47.39 L32.00 47.21 L31.50 47.17 L31.00 47.09 L30.50 47.02 L30.00 46.96 L29.50 47.12 L29.00 46.97 L28.50 46.57 L28.00 46.47 L27.50 46.19 L27.00 46.05 L26.50 46.17 L26.00 46.12 L25.50 45.94 L25.00 45.81 L24.50 45.73 L24.00 45.77 L23.50 45.52 L23.00 45.50 L22.50 45.39 L22.00 45.12 L21.50 45.08 L21.00 44.95 L20.50 44.93 L20.00 44.95 L19.50 44.86 L19.00 44.95 L18.50 44.93 L18.00 44.91 L17.50 44.87 L17.00 44.83 L16.50 44.80 L16.00 44.79 L15.50 44.75 L15.00 44.72 L14.50 44.77 L14.00 44.73 L13.50 44.71 L13.00 44.68 L12.50 44.62 L12.00 44.56 L11.50 44.58 L11.00 44.52 L10.50 44.54 L10.00 44.52 L9.50 44.46 L9.00 44.46 L8.50 44.44 L8.00 44.41 L7.50 44.43 L7.00 44.39 L6.50 44.41 L6.00 44.40Z" fill="#850a8c" filter="url(#bl1)"/>
<line x1="130.0" y1="44" x2="478.0" y2="44" stroke="#6e1476" stroke-width="1.1" opacity="0.85"/>
<rect x="2" y="64" width="481.00" height="60.50" fill="#060606"/>
<rect x="10.50" y="66.3" width="10" height="5.3" fill="#fff"/>
<rect x="10.50" y="118.8" width="10" height="5.3" fill="#fff"/>
<rect x="30.00" y="66.3" width="10" height="5.3" fill="#fff"/>
<rect x="30.00" y="118.8" width="10" height="5.3" fill="#fff"/>
<rect x="49.00" y="66.3" width="10" height="5.3" fill="#fff"/>
<rect x="49.00" y="118.8" width="10" height="5.3" fill="#fff"/>
<rect x="68.50" y="66.3" width="10" height="5.3" fill="#fff"/>
<rect x="68.50" y="118.8" width="10" height="5.3" fill="#fff"/>
<use href="#sA" x="7.00" y="74.50" width="75.00" height="42.30"/><rect x="7.00" y="74.50" width="75.00" height="42.30" fill="#8e8780" opacity="0.6"/>
<rect x="7.00" y="72.90" width="75.00" height="0.9" fill="#9a9590"/>
<rect x="7.00" y="74.50" width="75.00" height="42.30" fill="none" stroke="#8a8580" stroke-width="0.6" opacity="0.7"/>
<rect x="89.50" y="66.3" width="10" height="5.3" fill="#fff"/>
<rect x="89.50" y="118.8" width="10" height="5.3" fill="#fff"/>
<rect x="109.00" y="66.3" width="10" height="5.3" fill="#fff"/>
<rect x="109.00" y="118.8" width="10" height="5.3" fill="#fff"/>
<rect x="128.00" y="66.3" width="10" height="5.3" fill="#fff"/>
<rect x="128.00" y="118.8" width="10" height="5.3" fill="#fff"/>
<rect x="147.50" y="66.3" width="10" height="5.3" fill="#fff"/>
<rect x="147.50" y="118.8" width="10" height="5.3" fill="#fff"/>
<use href="#sA" x="86.00" y="74.50" width="75.00" height="42.30"/><rect x="86.00" y="74.50" width="75.00" height="42.30" fill="#8e8780" opacity="0.6"/>
<rect x="86.00" y="72.90" width="75.00" height="0.9" fill="#9a9590"/>
<rect x="86.00" y="74.50" width="75.00" height="42.30" fill="none" stroke="#8a8580" stroke-width="0.6" opacity="0.7"/>
<rect x="169.00" y="66.3" width="10" height="5.3" fill="#fff"/>
<rect x="169.00" y="118.8" width="10" height="5.3" fill="#fff"/>
<rect x="188.50" y="66.3" width="10" height="5.3" fill="#fff"/>
<rect x="188.50" y="118.8" width="10" height="5.3" fill="#fff"/>
<rect x="207.50" y="66.3" width="10" height="5.3" fill="#fff"/>
<rect x="207.50" y="118.8" width="10" height="5.3" fill="#fff"/>
<rect x="227.00" y="66.3" width="10" height="5.3" fill="#fff"/>
<rect x="227.00" y="118.8" width="10" height="5.3" fill="#fff"/>
<use href="#sA" x="165.50" y="74.50" width="75.00" height="42.30"/>
<rect x="248.50" y="66.3" width="10" height="5.3" fill="#fff"/>
<rect x="248.50" y="118.8" width="10" height="5.3" fill="#fff"/>
<rect x="268.00" y="66.3" width="10" height="5.3" fill="#fff"/>
<rect x="268.00" y="118.8" width="10" height="5.3" fill="#fff"/>
<rect x="287.00" y="66.3" width="10" height="5.3" fill="#fff"/>
<rect x="287.00" y="118.8" width="10" height="5.3" fill="#fff"/>
<rect x="306.50" y="66.3" width="10" height="5.3" fill="#fff"/>
<rect x="306.50" y="118.8" width="10" height="5.3" fill="#fff"/>
<use href="#sB" x="245.00" y="74.50" width="75.00" height="42.30"/>
<rect x="328.00" y="66.3" width="10" height="5.3" fill="#fff"/>
<rect x="328.00" y="118.8" width="10" height="5.3" fill="#fff"/>
<rect x="347.50" y="66.3" width="10" height="5.3" fill="#fff"/>
<rect x="347.50" y="118.8" width="10" height="5.3" fill="#fff"/>
<rect x="366.50" y="66.3" width="10" height="5.3" fill="#fff"/>
<rect x="366.50" y="118.8" width="10" height="5.3" fill="#fff"/>
<rect x="386.00" y="66.3" width="10" height="5.3" fill="#fff"/>
<rect x="386.00" y="118.8" width="10" height="5.3" fill="#fff"/>
<use href="#sB" x="324.50" y="74.50" width="75.00" height="42.30"/><rect x="324.50" y="74.50" width="75.00" height="42.30" fill="#8e8780" opacity="0.6"/>
<rect x="324.50" y="72.90" width="75.00" height="0.9" fill="#9a9590"/>
<rect x="324.50" y="74.50" width="75.00" height="42.30" fill="none" stroke="#8a8580" stroke-width="0.6" opacity="0.7"/>
<rect x="408.00" y="66.3" width="10" height="5.3" fill="#fff"/>
<rect x="408.00" y="118.8" width="10" height="5.3" fill="#fff"/>
<rect x="427.50" y="66.3" width="10" height="5.3" fill="#fff"/>
<rect x="427.50" y="118.8" width="10" height="5.3" fill="#fff"/>
<rect x="446.50" y="66.3" width="10" height="5.3" fill="#fff"/>
<rect x="446.50" y="118.8" width="10" height="5.3" fill="#fff"/>
<rect x="466.00" y="66.3" width="10" height="5.3" fill="#fff"/>
<rect x="466.00" y="118.8" width="10" height="5.3" fill="#fff"/>
<use href="#sB" x="404.50" y="74.50" width="75.00" height="42.30"/><rect x="404.50" y="74.50" width="75.00" height="42.30" fill="#8e8780" opacity="0.6"/>
<rect x="404.50" y="72.90" width="75.00" height="0.9" fill="#9a9590"/>
<rect x="404.50" y="74.50" width="75.00" height="42.30" fill="none" stroke="#8a8580" stroke-width="0.6" opacity="0.7"/>
<line x1="241.4" y1="37" x2="241.4" y2="139.3" stroke="#e51c1c" stroke-width="2" stroke-dasharray="5.2 3"/>
<g fill="none" stroke="#f01818"><circle cx="236.10" cy="16.90" r="3.00" stroke-width="1.75"/><circle cx="247.40" cy="17.50" r="3.00" stroke-width="1.75"/><path d="M238.10 19.70 L241.70 24.30 L245.40 38.50" stroke-width="2.30" stroke-linejoin="round"/><path d="M245.40 20.10 L241.70 24.30 L238.00 38.50" stroke-width="2.30" stroke-linejoin="round"/></g>
<text transform="translate(30.58 140.37) scale(0.958 1)" font-size="23.21" font-family="Liberation Serif" font-style="italic" stroke="#000" stroke-width="0.2">α</text><text transform="translate(44.62 145.54) scale(1.074 1)" font-size="15.56" font-family="Liberation Serif" stroke="#000" stroke-width="0.16">0</text>
<text transform="translate(103.31 140.37) scale(0.925 1)" font-size="23.21" font-family="Liberation Serif" font-style="italic" stroke="#000" stroke-width="0.2">α</text><text transform="translate(116.38 145.50) scale(1.220 1)" font-size="15.45" font-family="Liberation Serif" stroke="#000" stroke-width="0.16">1</text>
<circle cx="158.55" cy="139.20" r="1.35" fill="#000"/><circle cx="166.30" cy="139.20" r="1.35" fill="#000"/><circle cx="174.05" cy="139.20" r="1.35" fill="#000"/>
<text transform="translate(188.58 139.37) scale(0.976 1)" font-size="22.80" font-family="Liberation Serif" font-style="italic" stroke="#000" stroke-width="0.2">α</text><text transform="translate(202.33 144.43) scale(1.220 1)" font-size="16.87" font-family="Liberation Serif" font-style="italic" stroke="#000" stroke-width="0.16">t</text><text transform="translate(210.90 147.80) scale(0.872 1)" font-size="13.89" font-family="Liberation Serif" font-style="italic" stroke="#000" stroke-width="0.16">L</text>
<text transform="translate(272.71 143.88) scale(1.071 1)" font-size="22.23" font-family="Liberation Serif" font-style="italic" stroke="#000" stroke-width="0.2">β</text><text transform="translate(285.42 149.54) scale(1.054 1)" font-size="15.85" font-family="Liberation Serif" stroke="#000" stroke-width="0.16">0</text>
<text transform="translate(355.81 143.88) scale(1.071 1)" font-size="22.23" font-family="Liberation Serif" font-style="italic" stroke="#000" stroke-width="0.2">β</text><text transform="translate(367.91 149.70) scale(1.106 1)" font-size="15.91" font-family="Liberation Serif" stroke="#000" stroke-width="0.16">1</text>
<circle cx="394.55" cy="137.40" r="1.35" fill="#000"/><circle cx="402.35" cy="137.40" r="1.35" fill="#000"/><circle cx="410.15" cy="137.40" r="1.35" fill="#000"/>
<text transform="translate(428.30 143.90) scale(1.049 1)" font-size="22.13" font-family="Liberation Serif" font-style="italic" stroke="#000" stroke-width="0.2">β</text><text transform="translate(440.84 149.32) scale(1.128 1)" font-size="17.91" font-family="Liberation Serif" font-style="italic" stroke="#000" stroke-width="0.16">t</text><text transform="translate(449.11 152.80) scale(0.985 1)" font-size="12.52" font-family="Liberation Serif" font-style="italic" stroke="#000" stroke-width="0.16">R</text>
<path d="M68.2 146.8 L68.2 155.1 L423.2 155.1 L423.2 146.3" fill="none" stroke="#000" stroke-width="2.5"/>
<line x1="243.5" y1="155.5" x2="243.5" y2="163.9" stroke="#000" stroke-width="2.6"/><path d="M239.9 162.9 L247.1 162.9 L243.5 170.3 Z" fill="#000"/>
<rect x="71.5" y="171.8" width="343.9" height="41.3" fill="#FFC000" stroke="#000" stroke-width="2.8"/>
<text x="191.50" y="201.60" font-size="25.47" font-family="Liberation Serif">Backbone</text>
<line x1="243.5" y1="214" x2="243.5" y2="228.4" stroke="#000" stroke-width="2.6"/><path d="M239.9 227.4 L247.1 227.4 L243.5 234.8 Z" fill="#000"/>
<rect x="71" y="237.5" width="344" height="37.5" fill="#FFC000"/>
<text transform="translate(173.60 264.49) scale(1.174 1)" font-size="21.71" font-family="Liberation Serif" font-weight="bold" stroke="#000" stroke-width="0.25">(</text><text transform="translate(182.03 264.37) scale(0.940 1)" font-size="22.96" font-family="Liberation Serif" font-weight="bold" stroke="#000" stroke-width="0.25">t</text><text transform="translate(190.03 269.10) scale(1.220 1)" font-size="15.88" font-family="Liberation Serif" font-weight="bold" stroke="#000" stroke-width="0.25">L</text><text transform="translate(208.50 263.80) scale(1.220 1)" font-size="20.00" font-family="Liberation Serif" font-weight="bold" stroke="#000" stroke-width="0.25">+</text><text transform="translate(231.22 264.37) scale(0.968 1)" font-size="22.96" font-family="Liberation Serif" font-weight="bold" stroke="#000" stroke-width="0.25">t</text><text transform="translate(238.98 270.20) scale(0.887 1)" font-size="17.56" font-family="Liberation Serif" font-weight="bold" stroke="#000" stroke-width="0.25">R</text><text transform="translate(256.13 264.49) scale(1.163 1)" font-size="21.71" font-family="Liberation Serif" font-weight="bold" stroke="#000" stroke-width="0.25">)</text><text transform="translate(272.50 264.60) scale(1.007 1)" font-size="19.57" font-family="Liberation Serif" font-weight="bold" stroke="#000" stroke-width="0.25">x</text><text transform="translate(289.72 264.60) scale(1.047 1)" font-size="23.21" font-family="Liberation Serif" font-weight="bold" stroke="#000" stroke-width="0.25">H</text>
<line x1="243.3" y1="277.8" x2="243.3" y2="295.40000000000003" stroke="#000" stroke-width="2.6"/><path d="M239.70000000000002 294.40000000000003 L246.9 294.40000000000003 L243.3 301.8 Z" fill="#000"/>
<text transform="translate(31.10 270.91) rotate(-90) scale(1.004 1)" font-size="25.80" font-family="Liberation Serif">Feature</text>
<text transform="translate(61.73 271.59) rotate(-90) scale(1.019 1)" font-size="24.79" font-family="Liberation Serif">Map (</text><text transform="translate(61.73 210.56) rotate(-90) scale(1.019 1)" font-size="24.79" font-family="Liberation Serif" font-weight="bold">F</text><text transform="translate(61.73 195.13) rotate(-90) scale(1.019 1)" font-size="24.79" font-family="Liberation Serif">)</text>
<rect x="66.6" y="300.3" width="355.7" height="122.2" fill="none" stroke="#000" stroke-width="1.3" stroke-dasharray="9.3 4.7"/>
<path d="M74 304.5 L416.5 304.5 L347 343.3 L141.5 343.3 Z" fill="#FFC000" stroke="#000" stroke-width="3" stroke-linejoin="miter" stroke-miterlimit="10"/>
<text transform="translate(217.81 333.00) scale(0.978 1)" font-size="25.80" font-family="Liberation Serif">MLP</text>
<line x1="243.5" y1="344.3" x2="243.5" y2="355.6" stroke="#000" stroke-width="2.6"/><path d="M239.9 354.6 L247.1 354.6 L243.5 362 Z" fill="#000"/>
<rect x="126" y="362" width="235.25" height="48" fill="#FFC000"/>
<text transform="translate(172.86 394.62) scale(1.082 1)" font-size="22.48" font-family="Liberation Serif" font-weight="bold" stroke="#000" stroke-width="0.25">(</text><text transform="translate(181.84 394.86) scale(0.848 1)" font-size="24.35" font-family="Liberation Serif" font-weight="bold" stroke="#000" stroke-width="0.25">t</text><text transform="translate(189.73 399.40) scale(1.108 1)" font-size="16.49" font-family="Liberation Serif" font-weight="bold" stroke="#000" stroke-width="0.25">L</text><text transform="translate(206.93 395.29) scale(1.135 1)" font-size="23.87" font-family="Liberation Serif" font-weight="bold" stroke="#000" stroke-width="0.25">+</text><text transform="translate(229.00 394.86) scale(0.952 1)" font-size="24.35" font-family="Liberation Serif" font-weight="bold" stroke="#000" stroke-width="0.25">t</text><text transform="translate(237.08 400.40) scale(0.865 1)" font-size="18.02" font-family="Liberation Serif" font-weight="bold" stroke="#000" stroke-width="0.25">R</text><text transform="translate(254.83 394.62) scale(0.985 1)" font-size="22.48" font-family="Liberation Serif" font-weight="bold" stroke="#000" stroke-width="0.25">)</text><text transform="translate(270.83 395.10) scale(1.080 1)" font-size="21.09" font-family="Liberation Serif" font-weight="bold" font-style="italic" stroke="#000" stroke-width="0.25">x</text><text transform="translate(294.07 380.60) scale(1.028 1)" font-size="15.73" font-family="Liberation Serif" font-weight="bold" font-style="italic" stroke="#000" stroke-width="0.25">H</text><text transform="translate(288.56 406.69) scale(0.905 1)" font-size="21.04" font-family="Liberation Serif" font-weight="bold" font-style="italic" stroke="#000" stroke-width="0.25">c</text><text transform="translate(298.48 399.60) scale(1.220 1)" font-size="12.66" font-family="Liberation Serif" font-weight="bold" font-style="italic" stroke="#000" stroke-width="0.25">l</text><text transform="translate(303.06 405.80) scale(1.220 1)" font-size="13.03" font-family="Liberation Serif" font-weight="bold" stroke="#000" stroke-width="0.25">1</text>
<rect x="287.4" y="386.6" width="25.8" height="1.9" fill="#000"/>
<text transform="translate(27.30 397.41) rotate(-90) scale(0.997 1)" font-size="25.95" font-family="Liberation Serif">Feature</text>
<text transform="translate(57.36 402.60) rotate(-90) scale(1.014 1)" font-size="25.12" font-family="Liberation Serif">Map (</text><text transform="translate(57.36 341.04) rotate(-90) scale(1.014 1)" font-size="25.12" font-family="Liberation Serif" font-weight="bold">F’</text><text transform="translate(57.36 316.99) rotate(-90) scale(1.014 1)" font-size="25.12" font-family="Liberation Serif">)</text>
<line x1="243.8" y1="409.8" x2="243.8" y2="433.8" stroke="#000" stroke-width="2.6"/><path d="M240.20000000000002 432.8 L247.4 432.8 L243.8 440.2 Z" fill="#000"/>
<rect x="70.9" y="440.4" width="353.4" height="114.9" fill="none" stroke="#000" stroke-width="1.3" stroke-dasharray="9.3 4.7"/>
<path d="M127.5 447.6 L361 447.6 L314.5 484.8 L173 484.8 Z" fill="#FFC000" stroke="#000" stroke-width="3" stroke-miterlimit="10"/>
<text x="217.30" y="475.30" font-size="25.50" font-family="Liberation Serif">MLP</text>
<line x1="243.5" y1="485" x2="243.5" y2="498.40000000000003" stroke="#000" stroke-width="2.6"/><path d="M239.9 497.40000000000003 L247.1 497.40000000000003 L243.5 504.8 Z" fill="#000"/>
<rect x="169.3" y="508.3" width="152.1" height="36.2" fill="#FFC000"/>
<text transform="translate(181.34 534.45) scale(1.083 1)" font-size="22.81" font-family="Liberation Serif" font-weight="bold" stroke="#000" stroke-width="0.25">(</text><text transform="translate(189.98 534.35) scale(1.010 1)" font-size="24.52" font-family="Liberation Serif" font-weight="bold" stroke="#000" stroke-width="0.25">t</text><text transform="translate(198.54 539.30) scale(1.011 1)" font-size="17.25" font-family="Liberation Serif" font-weight="bold" stroke="#000" stroke-width="0.25">L</text><text transform="translate(215.42 533.72) scale(1.220 1)" font-size="20.22" font-family="Liberation Serif" font-weight="bold" stroke="#000" stroke-width="0.25">+</text><text transform="translate(238.03 534.35) scale(0.880 1)" font-size="24.52" font-family="Liberation Serif" font-weight="bold" stroke="#000" stroke-width="0.25">t</text><text transform="translate(246.47 540.20) scale(0.867 1)" font-size="18.63" font-family="Liberation Serif" font-weight="bold" stroke="#000" stroke-width="0.25">R</text><text transform="translate(263.79 534.45) scale(1.158 1)" font-size="22.81" font-family="Liberation Serif" font-weight="bold" stroke="#000" stroke-width="0.25">)</text><text transform="translate(279.60 534.60) scale(1.165 1)" font-size="18.48" font-family="Liberation Serif" font-weight="bold" stroke="#000" stroke-width="0.25">x</text><text transform="translate(295.46 534.60) scale(1.142 1)" font-size="22.88" font-family="Liberation Serif" font-weight="bold" stroke="#000" stroke-width="0.25">1</text>
<line x1="422.5" y1="301" x2="446.5" y2="209.5" stroke="#222" stroke-width="0.9" stroke-dasharray="1.6 1.2"/>
<line x1="422.5" y1="422.5" x2="446.5" y2="463" stroke="#222" stroke-width="0.9" stroke-dasharray="1.6 1.2"/>
<line x1="70.9" y1="555.3" x2="9.5" y2="560.5" stroke="#222" stroke-width="0.9" stroke-dasharray="1.6 1.2"/>
<line x1="424.1" y1="554" x2="534.2" y2="560.5" stroke="#222" stroke-width="0.9" stroke-dasharray="1.6 1.2"/>
<text transform="translate(450.65 197.70) scale(1.017 1)" font-size="19.71" font-family="Liberation Serif" font-weight="bold">Contrastive-</text>
<text transform="translate(565.85 197.20) scale(1.030 1)" font-size="19.56" font-family="Liberation Serif" font-weight="bold">Learning</text>
<text transform="translate(650.45 197.70) scale(0.987 1)" font-size="20.29" font-family="Liberation Serif" font-weight="bold">Module</text>
<rect x="446.5" y="209.5" width="294.4" height="253.7" fill="none" stroke="#111" stroke-width="1.3"/>
<text transform="translate(497.81 267.10) scale(0.935 1)" font-size="19.17" font-family="Liberation Serif">NCE-</text>
<text transform="translate(543.91 267.10) scale(0.910 1)" font-size="19.39" font-family="Liberation Serif">Loss</text>
<g filter="url(#bl1)"><rect x="653.55" y="218.60" width="4.59" height="1.76" fill="#a860b8" opacity="0.18"/><rect x="654.02" y="219.96" width="4.43" height="1.76" fill="#a860b8" opacity="0.28"/><rect x="654.22" y="221.31" width="3.70" height="1.76" fill="#a860b8" opacity="0.37"/><rect x="653.53" y="222.67" width="3.77" height="1.76" fill="#a860b8" opacity="0.46"/><rect x="654.81" y="224.02" width="3.27" height="1.76" fill="#a860b8" opacity="0.55"/><rect x="653.53" y="225.38" width="4.60" height="1.76" fill="#a860b8" opacity="0.46"/><rect x="654.13" y="226.73" width="3.90" height="1.76" fill="#a860b8" opacity="0.37"/><rect x="654.08" y="228.09" width="4.00" height="1.76" fill="#a860b8" opacity="0.28"/><rect x="654.25" y="229.44" width="3.12" height="1.76" fill="#a860b8" opacity="0.18"/></g>
<g filter="url(#bl1)"><rect x="709.17" y="218.60" width="4.24" height="1.78" fill="#a860b8" opacity="0.18"/><rect x="709.18" y="219.98" width="3.86" height="1.78" fill="#a860b8" opacity="0.28"/><rect x="709.42" y="221.36" width="4.36" height="1.78" fill="#a860b8" opacity="0.37"/><rect x="709.50" y="222.73" width="4.48" height="1.78" fill="#a860b8" opacity="0.46"/><rect x="709.06" y="224.11" width="4.82" height="1.78" fill="#a860b8" opacity="0.55"/><rect x="709.01" y="225.49" width="4.07" height="1.78" fill="#a860b8" opacity="0.46"/><rect x="709.36" y="226.87" width="3.16" height="1.78" fill="#a860b8" opacity="0.37"/><rect x="710.03" y="228.24" width="3.39" height="1.78" fill="#a860b8" opacity="0.28"/><rect x="709.04" y="229.62" width="4.74" height="1.78" fill="#a860b8" opacity="0.18"/></g>
<path d="M598.50 223.00 L599.00 222.95 L599.50 222.96 L600.00 222.95 L600.50 222.86 L601.00 222.87 L601.50 222.82 L602.00 222.72 L602.50 222.65 L603.00 222.68 L603.50 222.74 L604.00 222.70 L604.50 222.74 L605.00 222.76 L605.50 222.71 L606.00 222.70 L606.50 222.70 L607.00 222.71 L607.50 222.64 L608.00 222.66 L608.50 222.72 L609.00 222.73 L609.50 222.67 L610.00 222.66 L610.50 222.65 L611.00 222.76 L611.50 222.65 L612.00 222.64 L612.50 222.75 L613.00 222.65 L613.50 222.72 L614.00 222.58 L614.50 222.66 L615.00 222.63 L615.50 222.49 L616.00 222.48 L616.50 222.49 L617.00 222.46 L617.50 222.41 L618.00 222.35 L618.50 222.17 L619.00 222.24 L619.50 222.21 L620.00 222.04 L620.50 222.14 L621.00 222.08 L621.50 221.93 L622.00 222.00 L622.50 222.02 L623.00 221.97 L623.50 221.93 L624.00 221.80 L624.50 221.89 L625.00 221.99 L625.50 221.85 L626.00 222.02 L626.50 221.96 L627.00 222.11 L627.50 222.02 L628.00 222.16 L628.50 222.28 L629.00 222.29 L629.50 222.34 L630.00 222.34 L630.50 222.46 L631.00 222.52 L631.50 222.50 L632.00 222.54 L632.50 222.54 L633.00 222.69 L633.50 222.67 L634.00 222.72 L634.50 222.69 L635.00 222.72 L635.50 222.64 L636.00 222.68 L636.50 222.74 L637.00 222.75 L637.50 222.67 L638.00 222.75 L638.50 222.69 L639.00 222.70 L639.50 222.73 L640.00 222.64 L640.50 222.64 L641.00 222.63 L641.50 222.68 L642.00 222.60 L642.50 222.66 L643.00 222.60 L643.50 222.62 L644.00 222.62 L644.50 222.68 L645.00 222.56 L645.50 222.59 L646.00 222.59 L646.50 222.62 L647.00 222.66 L647.50 222.67 L648.00 222.61 L648.50 222.58 L649.00 222.59 L649.50 222.63 L650.00 222.63 L650.50 222.63 L651.00 222.51 L651.50 222.54 L652.00 222.51 L652.50 222.48 L653.00 222.31 L653.50 222.22 L654.00 222.19 L654.50 222.19 L655.00 221.97 L655.50 221.91 L656.00 221.91 L656.50 221.79 L657.00 221.76 L657.50 221.58 L658.00 221.59 L658.50 221.34 L659.00 221.53 L659.50 221.26 L660.00 221.27 L660.50 221.36 L661.00 221.44 L661.50 221.32 L662.00 221.25 L662.50 221.49 L663.00 221.42 L663.50 221.49 L664.00 221.53 L664.50 221.66 L665.00 221.81 L665.50 222.01 L666.00 221.96 L666.50 222.14 L667.00 222.15 L667.50 222.25 L668.00 222.37 L668.50 222.35 L669.00 222.39 L669.50 222.54 L670.00 222.48 L670.50 222.52 L671.00 222.44 L671.50 222.43 L672.00 222.47 L672.50 222.45 L673.00 222.46 L673.50 222.51 L674.00 222.39 L674.50 222.45 L675.00 222.47 L675.50 222.38 L676.00 222.49 L676.50 222.40 L677.00 222.40 L677.50 222.34 L678.00 222.33 L678.50 222.39 L679.00 222.41 L679.50 222.33 L680.00 222.27 L680.50 222.24 L681.00 222.23 L681.50 222.34 L682.00 222.31 L682.50 222.24 L683.00 222.20 L683.50 222.28 L684.00 222.18 L684.50 222.28 L685.00 222.14 L685.50 222.20 L686.00 222.20 L686.50 222.19 L687.00 222.12 L687.50 222.22 L688.00 222.19 L688.50 222.17 L689.00 222.20 L689.50 222.14 L690.00 222.27 L690.50 222.31 L691.00 222.21 L691.50 222.29 L692.00 222.36 L692.50 222.26 L693.00 222.31 L693.50 222.42 L694.00 222.37 L694.50 222.45 L695.00 222.51 L695.50 222.53 L696.00 222.53 L696.50 222.51 L697.00 222.55 L697.50 222.55 L698.00 222.61 L698.50 222.56 L699.00 222.55 L699.50 222.55 L700.00 222.57 L700.50 222.54 L701.00 222.60 L701.50 222.59 L702.00 222.47 L702.50 222.52 L703.00 222.47 L703.50 222.33 L704.00 222.28 L704.50 222.29 L705.00 222.30 L705.50 222.12 L706.00 222.00 L706.50 222.03 L707.00 221.97 L707.50 221.98 L708.00 221.95 L708.50 221.81 L709.00 221.76 L709.50 221.82 L710.00 221.64 L710.50 221.60 L711.00 221.81 L711.50 221.74 L712.00 221.84 L712.50 221.91 L713.00 222.03 L713.50 222.16 L714.00 222.40 L714.50 222.45 L715.00 222.64 L715.50 222.67 L716.00 222.65 L716.50 222.68 L717.00 222.71 L717.50 222.74 L718.00 222.73 L718.50 222.85 L719.00 222.84 L719.50 222.88 L720.00 222.90 L720.50 222.95 L721.00 222.97 L721.50 222.98 L721.50 224.36 L721.00 224.40 L720.50 224.45 L720.00 224.49 L719.50 224.49 L719.00 224.56 L718.50 224.62 L718.00 224.65 L717.50 224.65 L717.00 224.66 L716.50 224.74 L716.00 224.74 L715.50 224.67 L715.00 224.76 L714.50 224.90 L714.00 225.04 L713.50 225.26 L713.00 225.25 L712.50 225.47 L712.00 225.59 L711.50 225.73 L711.00 225.81 L710.50 225.60 L710.00 225.80 L709.50 225.58 L709.00 225.54 L708.50 225.59 L708.00 225.43 L707.50 225.39 L707.00 225.47 L706.50 225.42 L706.00 225.24 L705.50 225.33 L705.00 225.14 L704.50 225.16 L704.00 225.01 L703.50 225.00 L703.00 224.90 L702.50 224.95 L702.00 224.83 L701.50 224.91 L701.00 224.88 L700.50 224.78 L700.00 224.84 L699.50 224.77 L699.00 224.82 L698.50 224.82 L698.00 224.85 L697.50 224.80 L697.00 224.85 L696.50 224.87 L696.00 224.86 L695.50 224.93 L695.00 224.99 L694.50 224.99 L694.00 224.97 L693.50 224.98 L693.00 224.97 L692.50 225.01 L692.00 225.12 L691.50 225.09 L691.00 225.21 L690.50 225.14 L690.00 225.17 L689.50 225.26 L689.00 225.18 L688.50 225.12 L688.00 225.20 L687.50 225.25 L687.00 225.20 L686.50 225.11 L686.00 225.19 L685.50 225.13 L685.00 225.18 L684.50 225.23 L684.00 225.23 L683.50 225.13 L683.00 225.15 L682.50 225.14 L682.00 225.16 L681.50 225.12 L681.00 225.03 L680.50 225.09 L680.00 225.11 L679.50 225.10 L679.00 224.99 L678.50 225.08 L678.00 224.97 L677.50 224.94 L677.00 224.93 L676.50 225.03 L676.00 224.97 L675.50 224.94 L675.00 225.02 L674.50 224.99 L674.00 225.01 L673.50 224.99 L673.00 224.95 L672.50 224.96 L672.00 224.87 L671.50 224.90 L671.00 224.95 L670.50 224.91 L670.00 224.96 L669.50 224.90 L669.00 224.97 L668.50 224.93 L668.00 225.10 L667.50 225.17 L667.00 225.21 L666.50 225.27 L666.00 225.33 L665.50 225.49 L665.00 225.53 L664.50 225.62 L664.00 225.90 L663.50 225.91 L663.00 225.93 L662.50 225.89 L662.00 225.98 L661.50 225.95 L661.00 226.00 L660.50 226.18 L660.00 226.09 L659.50 225.91 L659.00 225.86 L658.50 225.92 L658.00 225.95 L657.50 225.79 L657.00 225.69 L656.50 225.57 L656.00 225.47 L655.50 225.54 L655.00 225.43 L654.50 225.27 L654.00 225.16 L653.50 225.09 L653.00 225.10 L652.50 224.96 L652.00 224.94 L651.50 224.92 L651.00 224.85 L650.50 224.76 L650.00 224.82 L649.50 224.74 L649.00 224.85 L648.50 224.80 L648.00 224.76 L647.50 224.81 L647.00 224.82 L646.50 224.83 L646.00 224.79 L645.50 224.76 L645.00 224.82 L644.50 224.79 L644.00 224.78 L643.50 224.74 L643.00 224.76 L642.50 224.79 L642.00 224.79 L641.50 224.76 L641.00 224.79 L640.50 224.76 L640.00 224.78 L639.50 224.73 L639.00 224.78 L638.50 224.74 L638.00 224.73 L637.50 224.76 L637.00 224.75 L636.50 224.65 L636.00 224.71 L635.50 224.72 L635.00 224.75 L634.50 224.66 L634.00 224.70 L633.50 224.69 L633.00 224.74 L632.50 224.77 L632.00 224.82 L631.50 224.94 L631.00 224.90 L630.50 225.03 L630.00 225.01 L629.50 225.15 L629.00 225.19 L628.50 225.29 L628.00 225.19 L627.50 225.33 L627.00 225.44 L626.50 225.48 L626.00 225.37 L625.50 225.53 L625.00 225.41 L624.50 225.57 L624.00 225.50 L623.50 225.49 L623.00 225.51 L622.50 225.48 L622.00 225.35 L621.50 225.38 L621.00 225.33 L620.50 225.43 L620.00 225.32 L619.50 225.23 L619.00 225.27 L618.50 225.20 L618.00 225.06 L617.50 225.04 L617.00 225.02 L616.50 224.99 L616.00 224.90 L615.50 224.82 L615.00 224.77 L614.50 224.76 L614.00 224.79 L613.50 224.71 L613.00 224.69 L612.50 224.72 L612.00 224.69 L611.50 224.70 L611.00 224.67 L610.50 224.74 L610.00 224.69 L609.50 224.69 L609.00 224.65 L608.50 224.67 L608.00 224.72 L607.50 224.76 L607.00 224.67 L606.50 224.72 L606.00 224.72 L605.50 224.74 L605.00 224.70 L604.50 224.67 L604.00 224.65 L603.50 224.64 L603.00 224.71 L602.50 224.74 L602.00 224.61 L601.50 224.66 L601.00 224.55 L600.50 224.55 L600.00 224.48 L599.50 224.45 L599.00 224.41 L598.50 224.41Z" fill="#850a8c" filter="url(#bl1)"/>
<rect x="592.3" y="237.1" width="139.7" height="46.3" fill="#060606"/>
<rect x="595.8" y="238.8" width="6" height="3" fill="#fff"/>
<rect x="595.8" y="279" width="6" height="3" fill="#fff"/>
<rect x="607.6" y="238.8" width="6" height="3" fill="#fff"/>
<rect x="607.6" y="279" width="6" height="3" fill="#fff"/>
<rect x="619.3" y="238.8" width="6" height="3" fill="#fff"/>
<rect x="619.3" y="279" width="6" height="3" fill="#fff"/>
<rect x="629.9" y="238.8" width="6" height="3" fill="#fff"/>
<rect x="629.9" y="279" width="6" height="3" fill="#fff"/>
<rect x="641.6" y="238.8" width="6" height="3" fill="#fff"/>
<rect x="641.6" y="279" width="6" height="3" fill="#fff"/>
<rect x="653.4" y="238.8" width="6" height="3" fill="#fff"/>
<rect x="653.4" y="279" width="6" height="3" fill="#fff"/>
<rect x="665.1" y="238.8" width="6" height="3" fill="#fff"/>
<rect x="665.1" y="279" width="6" height="3" fill="#fff"/>
<rect x="675.7" y="238.8" width="6" height="3" fill="#fff"/>
<rect x="675.7" y="279" width="6" height="3" fill="#fff"/>
<rect x="688.6" y="238.8" width="6" height="3" fill="#fff"/>
<rect x="688.6" y="279" width="6" height="3" fill="#fff"/>
<rect x="700.4" y="238.8" width="6" height="3" fill="#fff"/>
<rect x="700.4" y="279" width="6" height="3" fill="#fff"/>
<rect x="711" y="238.8" width="6" height="3" fill="#fff"/>
<rect x="711" y="279" width="6" height="3" fill="#fff"/>
<rect x="721.5" y="238.8" width="6" height="3" fill="#fff"/>
<rect x="721.5" y="279" width="6" height="3" fill="#fff"/>
<use href="#sB" x="593.50" y="243.50" width="47.00" height="34.00"/>
<use href="#sB" x="641.60" y="243.50" width="43.00" height="34.00"/><rect x="641.60" y="243.50" width="43.00" height="34.00" fill="#a09b94" opacity="0.78"/>
<use href="#sB" x="686.30" y="243.50" width="44.70" height="34.00"/><rect x="686.30" y="243.50" width="44.70" height="34.00" fill="#a09b94" opacity="0.78"/>
<text transform="translate(607.00 304.96) scale(1.028 1)" font-size="22.78" font-family="Liberation Serif" font-style="italic" stroke="#000" stroke-width="0.2">β</text><text transform="translate(619.64 309.64) scale(1.034 1)" font-size="15.70" font-family="Liberation Serif" stroke="#000" stroke-width="0.16">0</text>
<text transform="translate(654.70 304.96) scale(1.028 1)" font-size="22.78" font-family="Liberation Serif" font-style="italic" stroke="#000" stroke-width="0.2">β</text><text transform="translate(666.69 309.80) scale(1.145 1)" font-size="15.61" font-family="Liberation Serif" stroke="#000" stroke-width="0.16">1</text>
<circle cx="683.9" cy="299.8" r="1.3" fill="#000"/><circle cx="691.4" cy="299.8" r="1.3" fill="#000"/><circle cx="699.2" cy="299.8" r="1.3" fill="#000"/>
<text transform="translate(703.62 304.96) scale(1.071 1)" font-size="22.78" font-family="Liberation Serif" font-style="italic" stroke="#000" stroke-width="0.2">β</text><text transform="translate(716.25 309.63) scale(1.025 1)" font-size="17.39" font-family="Liberation Serif" font-style="italic" stroke="#000" stroke-width="0.16">t</text><text transform="translate(724.11 313.40) scale(0.985 1)" font-size="12.52" font-family="Liberation Serif" font-style="italic" stroke="#000" stroke-width="0.16">R</text>
<g filter="url(#blv1)"><rect x="460.37" y="333.00" width="22.36" height="1.32" fill="#a860b8" opacity="0.33"/><rect x="458.32" y="333.72" width="24.23" height="1.32" fill="#a860b8" opacity="0.50"/><rect x="456.12" y="334.44" width="28.40" height="1.32" fill="#a860b8" opacity="0.67"/><rect x="456.61" y="335.17" width="26.45" height="1.32" fill="#a860b8" opacity="0.83"/><rect x="458.38" y="335.89" width="25.31" height="1.32" fill="#a860b8" opacity="1.00"/><rect x="458.22" y="336.61" width="25.97" height="1.32" fill="#a860b8" opacity="0.83"/><rect x="458.62" y="337.33" width="25.10" height="1.32" fill="#a860b8" opacity="0.67"/><rect x="457.96" y="338.06" width="26.70" height="1.32" fill="#a860b8" opacity="0.50"/><rect x="457.99" y="338.78" width="24.21" height="1.32" fill="#a860b8" opacity="0.33"/></g>
<g filter="url(#blv1)"><rect x="458.86" y="348.50" width="24.18" height="1.43" fill="#a860b8" opacity="0.33"/><rect x="455.90" y="349.33" width="28.06" height="1.43" fill="#a860b8" opacity="0.50"/><rect x="458.16" y="350.17" width="24.56" height="1.43" fill="#a860b8" opacity="0.67"/><rect x="457.69" y="351.00" width="26.88" height="1.43" fill="#a860b8" opacity="0.83"/><rect x="455.90" y="351.83" width="29.63" height="1.43" fill="#a860b8" opacity="1.00"/><rect x="457.75" y="352.67" width="27.79" height="1.43" fill="#a860b8" opacity="0.83"/><rect x="456.15" y="353.50" width="27.58" height="1.43" fill="#a860b8" opacity="0.67"/><rect x="457.20" y="354.33" width="29.05" height="1.43" fill="#a860b8" opacity="0.50"/><rect x="456.96" y="355.17" width="27.09" height="1.43" fill="#a860b8" opacity="0.33"/></g>
<g filter="url(#blv1)"><rect x="460.14" y="361.00" width="20.36" height="1.38" fill="#a860b8" opacity="0.30"/><rect x="460.12" y="361.78" width="19.85" height="1.38" fill="#a860b8" opacity="0.45"/><rect x="461.33" y="362.56" width="17.73" height="1.38" fill="#a860b8" opacity="0.60"/><rect x="462.64" y="363.33" width="17.64" height="1.38" fill="#a860b8" opacity="0.75"/><rect x="462.21" y="364.11" width="16.88" height="1.38" fill="#a860b8" opacity="0.90"/><rect x="462.99" y="364.89" width="16.78" height="1.38" fill="#a860b8" opacity="0.75"/><rect x="461.57" y="365.67" width="19.28" height="1.38" fill="#a860b8" opacity="0.60"/><rect x="461.23" y="366.44" width="20.56" height="1.38" fill="#a860b8" opacity="0.45"/><rect x="460.98" y="367.22" width="18.74" height="1.38" fill="#a860b8" opacity="0.30"/></g>
<path d="M470.42 316.00 L470.31 316.50 L470.17 317.00 L469.80 317.50 L469.55 318.00 L469.41 318.50 L468.93 319.00 L468.64 319.50 L468.83 320.00 L468.41 320.50 L468.33 321.00 L468.60 321.50 L468.11 322.00 L467.52 322.50 L467.81 323.00 L467.57 323.50 L467.04 324.00 L466.91 324.50 L466.88 325.00 L466.07 325.50 L466.11 326.00 L465.89 326.50 L466.03 327.00 L466.09 327.50 L466.45 328.00 L465.47 328.50 L465.14 329.00 L465.56 329.50 L465.31 330.00 L464.38 330.50 L465.54 331.00 L464.41 331.50 L464.61 332.00 L464.45 332.50 L464.91 333.00 L464.41 333.50 L464.96 334.00 L464.70 334.50 L464.69 335.00 L464.72 335.50 L465.06 336.00 L463.96 336.50 L464.06 337.00 L463.70 337.50 L464.42 338.00 L463.52 338.50 L463.60 339.00 L464.36 339.50 L463.53 340.00 L464.77 340.50 L463.62 341.00 L463.48 341.50 L464.38 342.00 L464.10 342.50 L464.64 343.00 L463.28 343.50 L463.51 344.00 L464.31 344.50 L463.86 345.00 L464.67 345.50 L463.36 346.00 L463.30 346.50 L464.06 347.00 L463.40 347.50 L463.93 348.00 L463.58 348.50 L463.74 349.00 L464.83 349.50 L463.87 350.00 L464.00 350.50 L464.31 351.00 L463.55 351.50 L464.84 352.00 L464.97 352.50 L464.81 353.00 L464.04 353.50 L464.23 354.00 L464.31 354.50 L464.81 355.00 L464.49 355.50 L464.23 356.00 L464.00 356.50 L463.92 357.00 L465.11 357.50 L465.05 358.00 L464.90 358.50 L464.81 359.00 L464.75 359.50 L464.67 360.00 L463.94 360.50 L464.55 361.00 L463.93 361.50 L464.47 362.00 L464.30 362.50 L464.93 363.00 L464.64 363.50 L465.32 364.00 L464.01 364.50 L464.96 365.00 L465.27 365.50 L465.35 366.00 L464.42 366.50 L464.69 367.00 L464.73 367.50 L465.00 368.00 L465.25 368.50 L465.82 369.00 L465.66 369.50 L465.05 370.00 L465.62 370.50 L465.81 371.00 L465.62 371.50 L466.36 372.00 L465.97 372.50 L465.61 373.00 L465.97 373.50 L465.97 374.00 L465.97 374.50 L466.48 375.00 L466.33 375.50 L465.89 376.00 L465.76 376.50 L466.53 377.00 L466.52 377.50 L466.43 378.00 L466.76 378.50 L466.42 379.00 L467.12 379.50 L466.66 380.00 L467.10 380.50 L466.88 381.00 L466.75 381.50 L467.42 382.00 L467.58 382.50 L467.61 383.00 L467.60 383.50 L467.12 384.00 L467.54 384.50 L467.67 385.00 L467.59 385.50 L467.76 386.00 L467.90 386.50 L467.25 387.00 L467.97 387.50 L467.99 388.00 L467.56 388.50 L468.09 389.00 L468.07 389.50 L467.85 390.00 L467.94 390.50 L467.68 391.00 L467.87 391.50 L468.11 392.00 L467.84 392.50 L467.58 393.00 L467.35 393.50 L467.87 394.00 L467.66 394.50 L466.91 395.00 L467.20 395.50 L466.42 396.00 L466.41 396.50 L466.05 397.00 L466.48 397.50 L466.36 398.00 L465.67 398.50 L466.60 399.00 L466.00 399.50 L466.56 400.00 L466.95 400.50 L466.49 401.00 L467.19 401.50 L466.71 402.00 L467.37 402.50 L467.31 403.00 L467.96 403.50 L467.98 404.00 L467.97 404.50 L467.81 405.00 L467.76 405.50 L468.13 406.00 L467.70 406.50 L467.79 407.00 L467.73 407.50 L467.90 408.00 L467.61 408.50 L467.64 409.00 L467.75 409.50 L468.05 410.00 L467.89 410.50 L467.87 411.00 L467.70 411.50 L467.74 412.00 L467.68 412.50 L467.83 413.00 L467.77 413.50 L468.30 414.00 L468.24 414.50 L467.85 415.00 L468.29 415.50 L468.11 416.00 L468.37 416.50 L468.26 417.00 L467.82 417.50 L467.84 418.00 L468.33 418.50 L468.14 419.00 L467.93 419.50 L468.01 420.00 L468.15 420.50 L468.12 421.00 L468.10 421.50 L468.43 422.00 L468.11 422.50 L468.04 423.00 L467.92 423.50 L468.30 424.00 L468.17 424.50 L468.26 425.00 L468.50 425.50 L468.23 426.00 L468.40 426.50 L468.48 427.00 L468.44 427.50 L468.52 428.00 L468.42 428.50 L468.29 429.00 L468.56 429.50 L468.35 430.00 L468.28 430.50 L468.34 431.00 L468.77 431.50 L468.52 432.00 L468.46 432.50 L468.58 433.00 L468.86 433.50 L468.78 434.00 L468.97 434.50 L468.97 435.00 L469.01 435.50 L469.16 436.00 L469.00 436.50 L469.27 437.00 L469.12 437.50 L469.14 438.00 L469.27 438.50 L469.12 439.00 L469.25 439.50 L469.35 440.00 L469.22 440.50 L469.34 441.00 L469.44 441.50 L469.55 442.00 L469.46 442.50 L469.48 443.00 L469.68 443.50 L469.72 444.00 L469.74 444.50 L469.84 445.00 L469.91 445.50 L469.90 446.00 L470.05 446.50 L470.06 447.00 L470.15 447.50 L470.23 448.00 L470.25 448.50 L470.33 449.00 L470.38 449.50 L470.37 450.00 L470.39 450.50 L470.44 451.00 L470.99 451.00 L471.02 450.50 L471.05 450.00 L471.03 449.50 L471.11 449.00 L471.10 448.50 L471.22 448.00 L471.30 447.50 L471.27 447.00 L471.34 446.50 L471.54 446.00 L471.48 445.50 L471.52 445.00 L471.66 444.50 L471.85 444.00 L471.83 443.50 L471.92 443.00 L471.87 442.50 L472.05 442.00 L472.14 441.50 L472.08 441.00 L472.14 440.50 L472.05 440.00 L472.15 439.50 L472.08 439.00 L472.15 438.50 L472.22 438.00 L472.05 437.50 L472.42 437.00 L472.29 436.50 L472.20 436.00 L472.31 435.50 L472.56 435.00 L472.64 434.50 L472.72 434.00 L472.54 433.50 L472.63 433.00 L472.66 432.50 L472.64 432.00 L472.75 431.50 L473.08 431.00 L472.74 430.50 L473.05 430.00 L472.77 429.50 L473.04 429.00 L473.03 428.50 L473.01 428.00 L472.94 427.50 L473.17 427.00 L472.77 426.50 L473.22 426.00 L472.91 425.50 L473.39 425.00 L473.18 424.50 L472.87 424.00 L473.11 423.50 L473.35 423.00 L473.42 422.50 L473.46 422.00 L473.25 421.50 L473.14 421.00 L473.22 420.50 L473.15 420.00 L473.46 419.50 L473.39 419.00 L473.14 418.50 L473.32 418.00 L473.33 417.50 L473.07 417.00 L473.43 416.50 L473.39 416.00 L473.04 415.50 L473.26 415.00 L473.39 414.50 L473.31 414.00 L473.29 413.50 L473.54 413.00 L473.44 412.50 L473.22 412.00 L473.44 411.50 L473.21 411.00 L473.61 410.50 L473.52 410.00 L473.13 409.50 L473.75 409.00 L473.40 408.50 L473.75 408.00 L473.75 407.50 L473.30 407.00 L473.77 406.50 L473.73 406.00 L473.50 405.50 L473.28 405.00 L473.55 404.50 L473.30 404.00 L473.99 403.50 L473.94 403.00 L474.27 402.50 L474.35 402.00 L474.16 401.50 L474.88 401.00 L474.91 400.50 L474.62 400.00 L474.87 399.50 L475.29 399.00 L474.83 398.50 L475.40 398.00 L475.01 397.50 L474.87 397.00 L474.84 396.50 L474.78 396.00 L474.08 395.50 L474.50 395.00 L474.40 394.50 L473.96 394.00 L474.02 393.50 L473.85 393.00 L473.34 392.50 L473.43 392.00 L473.20 391.50 L473.74 391.00 L473.30 390.50 L473.85 390.00 L473.48 389.50 L473.69 389.00 L473.51 388.50 L473.82 388.00 L473.78 387.50 L473.97 387.00 L474.09 386.50 L474.23 386.00 L473.72 385.50 L473.65 385.00 L474.00 384.50 L473.91 384.00 L473.88 383.50 L474.11 383.00 L474.25 382.50 L474.47 382.00 L474.11 381.50 L474.15 381.00 L474.58 380.50 L474.28 380.00 L475.08 379.50 L474.71 379.00 L475.27 378.50 L474.49 378.00 L474.63 377.50 L474.87 377.00 L474.60 376.50 L475.66 376.00 L475.31 375.50 L475.65 375.00 L475.41 374.50 L475.63 374.00 L475.58 373.50 L475.67 373.00 L475.68 372.50 L475.50 372.00 L476.17 371.50 L475.71 371.00 L475.51 370.50 L476.23 370.00 L476.32 369.50 L476.09 369.00 L475.91 368.50 L476.23 368.00 L476.39 367.50 L475.87 367.00 L476.54 366.50 L477.11 366.00 L476.08 365.50 L477.41 365.00 L476.49 364.50 L477.17 364.00 L476.81 363.50 L477.03 363.00 L477.44 362.50 L476.80 362.00 L476.22 361.50 L476.91 361.00 L476.57 360.50 L476.62 360.00 L476.24 359.50 L477.25 359.00 L477.31 358.50 L477.41 358.00 L476.98 357.50 L477.50 357.00 L477.65 356.50 L476.39 356.00 L477.42 355.50 L476.61 355.00 L476.67 354.50 L476.84 354.00 L476.55 353.50 L477.71 353.00 L477.08 352.50 L476.55 352.00 L476.64 351.50 L477.96 351.00 L476.89 350.50 L477.86 350.00 L477.48 349.50 L478.08 349.00 L476.60 348.50 L477.05 348.00 L477.13 347.50 L477.59 347.00 L477.64 346.50 L477.97 346.00 L477.03 345.50 L477.87 345.00 L478.25 344.50 L477.45 344.00 L478.26 343.50 L477.19 343.00 L476.90 342.50 L477.07 342.00 L476.66 341.50 L477.32 341.00 L477.79 340.50 L476.74 340.00 L476.84 339.50 L477.19 339.00 L477.30 338.50 L477.88 338.00 L477.79 337.50 L477.32 337.00 L476.83 336.50 L477.47 336.00 L476.37 335.50 L477.09 335.00 L477.56 334.50 L476.42 334.00 L477.09 333.50 L477.06 333.00 L477.24 332.50 L476.78 332.00 L477.38 331.50 L475.95 331.00 L476.19 330.50 L476.00 330.00 L475.78 329.50 L476.22 329.00 L475.21 328.50 L475.35 328.00 L475.47 327.50 L475.38 327.00 L475.44 326.50 L474.70 326.00 L474.68 325.50 L474.37 325.00 L474.63 324.50 L474.45 324.00 L474.49 323.50 L474.09 323.00 L473.47 322.50 L473.06 322.00 L472.96 321.50 L472.93 321.00 L472.86 320.50 L472.48 320.00 L472.50 319.50 L472.26 319.00 L472.12 318.50 L471.78 318.00 L471.54 317.50 L471.31 317.00 L471.07 316.50 L471.01 316.00Z" fill="#850a8c" filter="url(#blv1)"/>
<rect x="487.7" y="311.3" width="76.1" height="142.6" fill="#060606"/>
<rect x="491.2" y="316.00" width="6.4" height="6.3" fill="#fff"/>
<rect x="556.3" y="316.00" width="6.3" height="6.3" fill="#fff"/>
<rect x="491.2" y="327.75" width="6.4" height="6.3" fill="#fff"/>
<rect x="556.3" y="327.75" width="6.3" height="6.3" fill="#fff"/>
<rect x="491.2" y="339.50" width="6.4" height="6.3" fill="#fff"/>
<rect x="556.3" y="339.50" width="6.3" height="6.3" fill="#fff"/>
<rect x="491.2" y="351.25" width="6.4" height="6.3" fill="#fff"/>
<rect x="556.3" y="351.25" width="6.3" height="6.3" fill="#fff"/>
<rect x="491.2" y="363.00" width="6.4" height="6.3" fill="#fff"/>
<rect x="556.3" y="363.00" width="6.3" height="6.3" fill="#fff"/>
<rect x="491.2" y="374.75" width="6.4" height="6.3" fill="#fff"/>
<rect x="556.3" y="374.75" width="6.3" height="6.3" fill="#fff"/>
<rect x="491.2" y="386.50" width="6.4" height="6.3" fill="#fff"/>
<rect x="556.3" y="386.50" width="6.3" height="6.3" fill="#fff"/>
<rect x="491.2" y="398.25" width="6.4" height="6.3" fill="#fff"/>
<rect x="556.3" y="398.25" width="6.3" height="6.3" fill="#fff"/>
<rect x="491.2" y="410.00" width="6.4" height="6.3" fill="#fff"/>
<rect x="556.3" y="410.00" width="6.3" height="6.3" fill="#fff"/>
<rect x="491.2" y="421.75" width="6.4" height="6.3" fill="#fff"/>
<rect x="556.3" y="421.75" width="6.3" height="6.3" fill="#fff"/>
<rect x="491.2" y="433.50" width="6.4" height="6.3" fill="#fff"/>
<rect x="556.3" y="433.50" width="6.3" height="6.3" fill="#fff"/>
<rect x="491.2" y="445.25" width="6.4" height="6.3" fill="#fff"/>
<rect x="556.3" y="445.25" width="6.3" height="6.3" fill="#fff"/>
<use href="#sA" x="500.00" y="313.60" width="55.10" height="43.90"/><rect x="500.00" y="313.60" width="55.10" height="43.90" fill="#9a958e" opacity="0.68"/>
<use href="#sA" x="500.00" y="361.50" width="55.10" height="44.20"/><rect x="500.00" y="361.50" width="55.10" height="44.20" fill="#9a958e" opacity="0.68"/>
<use href="#sA" x="500.00" y="408.50" width="55.10" height="44.20"/>
<text transform="translate(570.10 341.48) scale(0.968 1)" font-size="22.38" font-family="Liberation Serif" font-style="italic" stroke="#000" stroke-width="0.2">α</text><text transform="translate(583.69 347.04) scale(1.093 1)" font-size="16.15" font-family="Liberation Serif" stroke="#000" stroke-width="0.16">0</text>
<text transform="translate(570.10 387.77) scale(0.959 1)" font-size="22.59" font-family="Liberation Serif" font-style="italic" stroke="#000" stroke-width="0.2">α</text><text transform="translate(583.16 393.40) scale(1.168 1)" font-size="16.52" font-family="Liberation Serif" stroke="#000" stroke-width="0.16">1</text>
<g fill="#000"><circle cx="576.9" cy="400.6" r="1.2"/><circle cx="576.9" cy="408.5" r="1.2"/><circle cx="576.9" cy="416.4" r="1.2"/></g>
<text transform="translate(568.67 435.76) scale(0.926 1)" font-size="24.46" font-family="Liberation Serif" font-style="italic" stroke="#000" stroke-width="0.2">α</text><text transform="translate(581.53 439.41) scale(1.191 1)" font-size="18.96" font-family="Liberation Serif" font-style="italic" stroke="#000" stroke-width="0.16">t</text><text transform="translate(589.15 445.00) scale(0.968 1)" font-size="16.49" font-family="Liberation Serif" font-style="italic" stroke="#000" stroke-width="0.16">L</text>
<rect x="600.90" y="314.00" width="40.90" height="45.70" fill="#a5a5a5"/>
<rect x="642.80" y="314.00" width="41.00" height="45.70" fill="#a5a5a5"/>
<rect x="684.80" y="314.00" width="41.20" height="45.70" fill="#a5a5a5"/>
<rect x="600.90" y="360.70" width="40.90" height="46.00" fill="#a5a5a5"/>
<rect x="642.80" y="360.70" width="41.00" height="46.00" fill="#a5a5a5"/>
<rect x="684.80" y="360.70" width="41.20" height="46.00" fill="#a5a5a5"/>
<rect x="600.90" y="407.70" width="40.90" height="45.70" fill="#ff0000"/>
<rect x="642.80" y="407.70" width="41.00" height="45.70" fill="#a5a5a5"/>
<rect x="684.80" y="407.70" width="41.20" height="45.70" fill="#a5a5a5"/>
<path d="M9.6 740 L9.6 560.5 L534.2 560.5 L534.2 740" fill="none" stroke="#111" stroke-width="1.3"/>
<line x1="9.6" y1="740" x2="534.2" y2="740" stroke="#d0d0d0" stroke-width="1"/>
<text transform="translate(540.40 595.23) scale(1.085 1)" font-size="18.46" font-family="Liberation Serif" font-weight="bold">Auxiliary-</text>
<text transform="translate(540.68 620.60) scale(1.094 1)" font-size="19.28" font-family="Liberation Serif" font-weight="bold">Task</text>
<text transform="translate(540.65 644.80) scale(1.041 1)" font-size="19.28" font-family="Liberation Serif" font-weight="bold">Module</text>
<g filter="url(#bl1)"><rect x="47.07" y="564.40" width="16.04" height="3.07" fill="#a860b8" opacity="0.25"/><rect x="46.90" y="567.07" width="17.15" height="3.07" fill="#a860b8" opacity="0.38"/><rect x="49.87" y="569.73" width="12.59" height="3.07" fill="#a860b8" opacity="0.50"/><rect x="46.27" y="572.40" width="17.44" height="3.07" fill="#a860b8" opacity="0.62"/><rect x="46.59" y="575.07" width="12.88" height="3.07" fill="#a860b8" opacity="0.75"/><rect x="47.97" y="577.73" width="14.24" height="3.07" fill="#a860b8" opacity="0.62"/><rect x="47.01" y="580.40" width="12.90" height="3.07" fill="#a860b8" opacity="0.50"/><rect x="47.41" y="583.07" width="12.26" height="3.07" fill="#a860b8" opacity="0.38"/><rect x="48.93" y="585.73" width="11.96" height="3.07" fill="#a860b8" opacity="0.25"/></g>
<g filter="url(#bl1)"><rect x="77.46" y="565.40" width="14.73" height="2.84" fill="#a860b8" opacity="0.18"/><rect x="73.61" y="567.84" width="16.29" height="2.84" fill="#a860b8" opacity="0.28"/><rect x="76.02" y="570.29" width="16.22" height="2.84" fill="#a860b8" opacity="0.37"/><rect x="76.78" y="572.73" width="17.25" height="2.84" fill="#a860b8" opacity="0.46"/><rect x="74.73" y="575.18" width="21.91" height="2.84" fill="#a860b8" opacity="0.55"/><rect x="76.98" y="577.62" width="17.25" height="2.84" fill="#a860b8" opacity="0.46"/><rect x="73.89" y="580.07" width="22.24" height="2.84" fill="#a860b8" opacity="0.37"/><rect x="77.28" y="582.51" width="15.67" height="2.84" fill="#a860b8" opacity="0.28"/><rect x="74.71" y="584.96" width="21.89" height="2.84" fill="#a860b8" opacity="0.18"/></g>
<g filter="url(#bl1)"><rect x="372.61" y="570.90" width="7.72" height="1.40" fill="#a860b8" opacity="0.17"/><rect x="372.79" y="571.90" width="6.00" height="1.40" fill="#a860b8" opacity="0.25"/><rect x="372.58" y="572.90" width="6.49" height="1.40" fill="#a860b8" opacity="0.33"/><rect x="373.26" y="573.90" width="5.29" height="1.40" fill="#a860b8" opacity="0.42"/><rect x="373.46" y="574.90" width="6.96" height="1.40" fill="#a860b8" opacity="0.50"/><rect x="373.26" y="575.90" width="6.69" height="1.40" fill="#a860b8" opacity="0.42"/><rect x="373.87" y="576.90" width="5.37" height="1.40" fill="#a860b8" opacity="0.33"/><rect x="373.24" y="577.90" width="5.32" height="1.40" fill="#a860b8" opacity="0.25"/><rect x="372.48" y="578.90" width="8.07" height="1.40" fill="#a860b8" opacity="0.17"/></g>
<path d="M17.04 575.02 L17.54 575.00 L18.04 575.01 L18.54 575.00 L19.04 574.99 L19.54 574.95 L20.04 574.94 L20.54 574.93 L21.04 574.93 L21.54 574.86 L22.04 574.88 L22.54 574.84 L23.04 574.83 L23.54 574.78 L24.04 574.72 L24.54 574.74 L25.04 574.68 L25.54 574.72 L26.04 574.62 L26.54 574.66 L27.04 574.59 L27.54 574.57 L28.04 574.61 L28.54 574.57 L29.04 574.52 L29.54 574.47 L30.04 574.46 L30.54 574.53 L31.04 574.49 L31.54 574.48 L32.04 574.50 L32.54 574.38 L33.04 574.35 L33.54 574.13 L34.04 573.98 L34.54 573.93 L35.04 573.80 L35.54 573.66 L36.04 573.65 L36.54 573.56 L37.04 573.46 L37.54 573.31 L38.04 573.36 L38.54 573.30 L39.04 573.06 L39.54 573.05 L40.04 572.85 L40.54 572.51 L41.04 572.36 L41.54 572.31 L42.04 572.44 L42.54 572.40 L43.04 572.41 L43.54 572.36 L44.04 572.30 L44.54 572.15 L45.04 571.80 L45.54 571.97 L46.04 571.67 L46.54 571.52 L47.04 571.62 L47.54 571.62 L48.04 571.61 L48.54 571.77 L49.04 571.48 L49.54 571.50 L50.04 571.73 L50.54 571.75 L51.04 571.73 L51.54 571.64 L52.04 571.45 L52.54 571.66 L53.04 571.42 L53.54 571.74 L54.04 571.33 L54.54 571.65 L55.04 571.57 L55.54 571.35 L56.04 571.64 L56.54 571.58 L57.04 571.59 L57.54 571.75 L58.04 571.52 L58.54 571.61 L59.04 571.75 L59.54 571.90 L60.04 571.81 L60.54 571.97 L61.04 571.83 L61.54 571.88 L62.04 571.77 L62.54 571.71 L63.04 571.86 L63.54 572.02 L64.04 572.34 L64.54 572.47 L65.04 572.52 L65.54 572.64 L66.04 572.73 L66.54 572.98 L67.04 572.98 L67.54 573.03 L68.04 573.07 L68.54 573.13 L69.04 572.95 L69.54 572.86 L70.04 573.13 L70.54 573.00 L71.04 573.10 L71.54 573.05 L72.04 573.03 L72.54 573.00 L73.04 572.94 L73.54 572.48 L74.04 572.03 L74.54 571.37 L75.04 570.98 L75.54 570.90 L76.04 570.25 L76.54 570.36 L77.04 570.42 L77.54 570.17 L78.04 569.72 L78.54 569.83 L79.04 569.16 L79.54 568.47 L80.04 567.97 L80.54 567.58 L81.04 567.56 L81.54 567.39 L82.04 567.09 L82.54 566.73 L83.04 567.21 L83.54 567.23 L84.04 567.13 L84.54 567.24 L85.04 566.79 L85.54 567.23 L86.04 567.11 L86.54 567.15 L87.04 567.17 L87.54 566.96 L88.04 566.74 L88.54 567.06 L89.04 566.57 L89.54 566.76 L90.04 566.65 L90.54 566.69 L91.04 566.73 L91.54 567.19 L92.04 567.68 L92.54 568.01 L93.04 568.69 L93.54 568.90 L94.04 569.36 L94.54 569.50 L95.04 569.35 L95.54 569.76 L96.04 569.50 L96.54 569.23 L97.04 569.52 L97.54 569.26 L98.04 569.53 L98.54 569.50 L99.04 569.18 L99.54 569.51 L100.04 569.18 L100.54 569.40 L101.04 569.62 L101.54 569.12 L102.04 569.16 L102.54 569.15 L103.04 568.82 L103.54 569.29 L104.04 568.70 L104.54 568.93 L105.04 568.27 L105.54 568.53 L106.04 568.67 L106.54 568.41 L107.04 568.38 L107.54 568.59 L108.04 568.28 L108.54 568.80 L109.04 568.85 L109.54 568.45 L110.04 568.62 L110.54 569.31 L111.04 569.23 L111.54 569.58 L112.04 569.48 L112.54 569.96 L113.04 570.12 L113.54 569.52 L114.04 570.08 L114.54 569.82 L115.04 569.75 L115.54 570.14 L116.04 570.47 L116.54 570.48 L117.04 570.44 L117.54 570.39 L118.04 570.77 L118.54 570.90 L119.04 570.85 L119.54 571.15 L120.04 571.00 L120.54 570.71 L121.04 571.22 L121.54 571.01 L122.04 570.99 L122.54 571.19 L123.04 571.54 L123.54 571.31 L124.04 571.29 L124.54 571.38 L125.04 571.71 L125.54 571.74 L126.04 571.79 L126.54 572.09 L127.04 571.96 L127.54 572.24 L128.04 572.01 L128.54 572.26 L129.04 572.14 L129.54 572.08 L130.04 571.94 L130.54 572.06 L131.04 571.97 L131.54 572.22 L132.04 572.14 L132.54 572.05 L133.04 572.31 L133.54 572.17 L134.04 572.34 L134.54 572.38 L135.04 572.21 L135.54 572.19 L136.04 572.32 L136.54 572.50 L137.04 572.52 L137.54 572.52 L138.04 572.27 L138.54 572.53 L139.04 572.29 L139.54 572.57 L140.04 572.45 L140.54 572.44 L141.04 572.59 L141.54 572.47 L142.04 572.57 L142.54 572.53 L143.04 572.58 L143.54 572.71 L144.04 572.89 L144.54 572.73 L145.04 572.89 L145.54 572.92 L146.04 573.00 L146.54 573.14 L147.04 573.03 L147.54 573.12 L148.04 573.21 L148.54 573.31 L149.04 573.09 L149.54 573.27 L150.04 573.14 L150.54 573.25 L151.04 573.31 L151.54 573.37 L152.04 573.22 L152.54 573.34 L153.04 573.26 L153.54 573.38 L154.04 573.34 L154.54 573.44 L155.04 573.49 L155.54 573.39 L156.04 573.43 L156.54 573.48 L157.04 573.67 L157.54 573.63 L158.04 573.67 L158.54 573.72 L159.04 573.71 L159.54 573.70 L160.04 573.74 L160.54 573.80 L161.04 573.89 L161.54 573.87 L162.04 573.88 L162.54 573.83 L163.04 573.85 L163.54 573.97 L164.04 573.93 L164.54 573.86 L165.04 573.88 L165.54 573.82 L166.04 573.81 L166.54 573.90 L167.04 573.88 L167.54 573.78 L168.04 573.76 L168.54 573.79 L169.04 573.68 L169.54 573.57 L170.04 573.52 L170.54 573.64 L171.04 573.66 L171.54 573.55 L172.04 573.41 L172.54 573.46 L173.04 573.40 L173.54 573.49 L174.04 573.52 L174.54 573.37 L175.04 573.41 L175.54 573.36 L176.04 573.34 L176.54 573.28 L177.04 573.36 L177.54 573.15 L178.04 573.02 L178.54 573.01 L179.04 573.12 L179.54 573.09 L180.04 572.82 L180.54 573.00 L181.04 572.68 L181.54 572.87 L182.04 572.84 L182.54 572.77 L183.04 572.86 L183.54 572.83 L184.04 572.87 L184.54 573.11 L185.04 573.02 L185.54 573.31 L186.04 573.31 L186.54 573.46 L187.04 573.43 L187.54 573.62 L188.04 573.69 L188.54 573.63 L189.04 573.84 L189.54 573.87 L190.04 573.83 L190.54 573.74 L191.04 573.76 L191.54 573.76 L192.04 573.84 L192.54 573.74 L193.04 573.84 L193.54 573.89 L194.04 573.88 L194.54 573.84 L195.04 573.91 L195.54 573.81 L196.04 573.94 L196.54 573.86 L197.04 573.98 L197.54 573.92 L198.04 573.89 L198.54 573.95 L199.04 574.02 L199.54 573.88 L200.04 573.99 L200.54 573.90 L201.04 573.94 L201.54 573.93 L202.04 573.95 L202.54 574.01 L203.04 574.04 L203.54 574.04 L204.04 574.06 L204.54 574.03 L205.04 574.13 L205.54 574.17 L206.04 574.07 L206.54 574.16 L207.04 574.12 L207.54 574.19 L208.04 574.23 L208.54 574.19 L209.04 574.27 L209.54 574.25 L210.04 574.27 L210.54 574.27 L211.04 574.21 L211.54 574.21 L212.04 574.22 L212.54 574.28 L213.04 574.30 L213.54 574.28 L214.04 574.35 L214.54 574.32 L215.04 574.24 L215.54 574.31 L216.04 574.24 L216.54 574.26 L217.04 574.27 L217.54 574.33 L218.04 574.30 L218.54 574.26 L219.04 574.27 L219.54 574.32 L220.04 574.25 L220.54 574.32 L221.04 574.23 L221.54 574.18 L222.04 574.20 L222.54 574.21 L223.04 574.22 L223.54 574.13 L224.04 574.18 L224.54 574.12 L225.04 574.12 L225.54 574.16 L226.04 574.17 L226.54 574.17 L227.04 574.04 L227.54 574.04 L228.04 574.02 L228.54 574.09 L229.04 574.09 L229.54 574.04 L230.04 573.96 L230.54 574.01 L231.04 573.93 L231.54 573.96 L232.04 574.01 L232.54 574.02 L233.04 573.96 L233.54 574.01 L234.04 573.98 L234.54 573.95 L235.04 573.96 L235.54 573.84 L236.04 573.90 L236.54 573.98 L237.04 573.97 L237.54 573.95 L238.04 573.83 L238.54 573.93 L239.04 573.82 L239.54 573.81 L240.04 573.89 L240.54 573.87 L241.04 573.99 L241.54 574.00 L242.04 573.94 L242.54 574.04 L243.04 573.89 L243.54 573.91 L244.04 574.08 L244.54 574.00 L245.04 574.07 L245.54 574.16 L246.04 574.16 L246.54 574.15 L247.04 574.09 L247.54 574.19 L248.04 574.21 L248.54 574.25 L249.04 574.20 L249.54 574.35 L250.04 574.28 L250.54 574.30 L251.04 574.41 L251.54 574.41 L252.04 574.43 L252.54 574.37 L253.04 574.42 L253.54 574.48 L254.04 574.41 L254.54 574.45 L255.04 574.54 L255.54 574.54 L256.04 574.52 L256.54 574.54 L257.04 574.51 L257.54 574.52 L258.04 574.52 L258.54 574.51 L259.04 574.46 L259.54 574.53 L260.04 574.54 L260.54 574.55 L261.04 574.45 L261.54 574.52 L262.04 574.53 L262.54 574.55 L263.04 574.54 L263.54 574.54 L264.04 574.53 L264.54 574.55 L265.04 574.46 L265.54 574.55 L266.04 574.52 L266.54 574.54 L267.04 574.49 L267.54 574.46 L268.04 574.51 L268.54 574.54 L269.04 574.45 L269.54 574.47 L270.04 574.48 L270.54 574.48 L271.04 574.50 L271.54 574.52 L272.04 574.48 L272.54 574.48 L273.04 574.45 L273.54 574.47 L274.04 574.54 L274.54 574.47 L275.04 574.51 L275.54 574.55 L276.04 574.48 L276.54 574.45 L277.04 574.54 L277.54 574.54 L278.04 574.47 L278.54 574.51 L279.04 574.46 L279.54 574.46 L280.04 574.48 L280.54 574.50 L281.04 574.52 L281.54 574.54 L282.04 574.45 L282.54 574.54 L283.04 574.47 L283.54 574.50 L284.04 574.55 L284.54 574.45 L285.04 574.48 L285.54 574.52 L286.04 574.47 L286.54 574.54 L287.04 574.48 L287.54 574.55 L288.04 574.45 L288.54 574.48 L289.04 574.53 L289.54 574.51 L290.04 574.55 L290.54 574.55 L291.04 574.52 L291.54 574.47 L292.04 574.55 L292.54 574.49 L293.04 574.52 L293.54 574.52 L294.04 574.45 L294.54 574.45 L295.04 574.54 L295.54 574.45 L296.04 574.52 L296.54 574.55 L297.04 574.54 L297.54 574.45 L298.04 574.46 L298.54 574.50 L299.04 574.50 L299.54 574.48 L300.04 574.53 L300.54 574.50 L301.04 574.55 L301.54 574.51 L302.04 574.45 L302.54 574.51 L303.04 574.51 L303.54 574.47 L304.04 574.49 L304.54 574.53 L305.04 574.50 L305.54 574.51 L306.04 574.46 L306.54 574.49 L307.04 574.49 L307.54 574.53 L308.04 574.53 L308.54 574.45 L309.04 574.47 L309.54 574.51 L310.04 574.50 L310.54 574.52 L311.04 574.45 L311.54 574.50 L312.04 574.49 L312.54 574.53 L313.04 574.50 L313.54 574.52 L314.04 574.52 L314.54 574.46 L315.04 574.50 L315.54 574.48 L316.04 574.47 L316.54 574.51 L317.04 574.51 L317.54 574.51 L318.04 574.47 L318.54 574.48 L319.04 574.46 L319.54 574.55 L320.04 574.55 L320.54 574.55 L321.04 574.46 L321.54 574.49 L322.04 574.53 L322.54 574.47 L323.04 574.49 L323.54 574.54 L324.04 574.53 L324.54 574.52 L325.04 574.52 L325.54 574.51 L326.04 574.47 L326.54 574.48 L327.04 574.51 L327.54 574.53 L328.04 574.46 L328.54 574.53 L329.04 574.45 L329.54 574.46 L330.04 574.47 L330.54 574.50 L331.04 574.49 L331.54 574.49 L332.04 574.48 L332.54 574.54 L333.04 574.46 L333.54 574.51 L334.04 574.51 L334.54 574.51 L335.04 574.51 L335.54 574.45 L336.04 574.49 L336.54 574.45 L337.04 574.47 L337.54 574.52 L338.04 574.46 L338.54 574.46 L339.04 574.54 L339.54 574.52 L340.04 574.51 L340.54 574.48 L341.04 574.50 L341.54 574.51 L342.04 574.54 L342.54 574.45 L343.04 574.48 L343.54 574.46 L344.04 574.46 L344.54 574.47 L345.04 574.50 L345.54 574.54 L346.04 574.46 L346.54 574.54 L347.04 574.49 L347.54 574.46 L348.04 574.46 L348.54 574.47 L349.04 574.45 L349.54 574.51 L350.04 574.52 L350.54 574.54 L351.04 574.46 L351.54 574.53 L352.04 574.46 L352.54 574.46 L353.04 574.48 L353.54 574.46 L354.04 574.49 L354.54 574.46 L355.04 574.54 L355.54 574.54 L356.04 574.53 L356.54 574.45 L357.04 574.49 L357.54 574.45 L358.04 574.54 L358.54 574.49 L359.04 574.46 L359.54 574.48 L360.04 574.46 L360.54 574.49 L361.04 574.52 L361.54 574.50 L362.04 574.53 L362.54 574.54 L363.04 574.49 L363.54 574.52 L364.04 574.52 L364.54 574.45 L365.04 574.47 L365.54 574.45 L366.04 574.48 L366.54 574.45 L367.04 574.53 L367.54 574.47 L368.04 574.53 L368.54 574.47 L369.04 574.49 L369.54 574.52 L370.04 574.50 L370.54 574.41 L371.04 574.45 L371.54 574.42 L372.04 574.34 L372.54 574.29 L373.04 574.16 L373.54 574.19 L374.04 574.05 L374.54 574.06 L375.04 574.02 L375.54 573.91 L376.04 573.85 L376.54 573.88 L377.04 573.98 L377.54 573.96 L378.04 573.99 L378.54 574.05 L379.04 574.15 L379.54 574.07 L380.04 574.22 L380.54 574.30 L381.04 574.30 L381.54 574.36 L382.04 574.43 L382.54 574.48 L383.04 574.45 L383.54 574.50 L384.04 574.46 L384.54 574.51 L385.04 574.46 L385.54 574.48 L386.04 574.45 L386.54 574.50 L387.04 574.49 L387.54 574.45 L388.04 574.45 L388.54 574.54 L389.04 574.46 L389.54 574.46 L390.04 574.47 L390.54 574.47 L391.04 574.49 L391.54 574.49 L392.04 574.46 L392.54 574.52 L393.04 574.48 L393.54 574.47 L394.04 574.47 L394.54 574.45 L395.04 574.51 L395.54 574.54 L396.04 574.50 L396.54 574.45 L397.04 574.48 L397.54 574.47 L398.04 574.47 L398.54 574.55 L399.04 574.53 L399.54 574.45 L400.04 574.52 L400.54 574.55 L401.04 574.53 L401.54 574.51 L402.04 574.54 L402.54 574.51 L403.04 574.49 L403.54 574.49 L404.04 574.45 L404.54 574.52 L405.04 574.54 L405.54 574.47 L406.04 574.46 L406.54 574.54 L407.04 574.53 L407.54 574.45 L408.04 574.51 L408.54 574.48 L409.04 574.52 L409.54 574.45 L410.04 574.50 L410.54 574.53 L411.04 574.55 L411.54 574.49 L412.04 574.49 L412.54 574.53 L413.04 574.51 L413.54 574.46 L414.04 574.46 L414.54 574.49 L415.04 574.50 L415.54 574.46 L416.04 574.53 L416.54 574.54 L417.04 574.53 L417.54 574.49 L418.04 574.45 L418.54 574.53 L419.04 574.54 L419.54 574.49 L420.04 574.45 L420.54 574.47 L421.04 574.52 L421.54 574.50 L422.04 574.52 L422.54 574.49 L423.04 574.51 L423.54 574.53 L424.04 574.54 L424.54 574.46 L425.04 574.53 L425.54 574.45 L426.04 574.54 L426.54 574.45 L427.04 574.47 L427.54 574.51 L428.04 574.47 L428.54 574.48 L429.04 574.46 L429.54 574.46 L430.04 574.55 L430.54 574.53 L431.04 574.47 L431.54 574.47 L432.04 574.53 L432.54 574.51 L433.04 574.47 L433.54 574.52 L434.04 574.47 L434.54 574.46 L435.04 574.52 L435.54 574.46 L436.04 574.55 L436.54 574.50 L437.04 574.47 L437.54 574.45 L438.04 574.49 L438.54 574.49 L439.04 574.52 L439.54 574.46 L440.04 574.51 L440.54 574.51 L441.04 574.48 L441.54 574.49 L442.04 574.51 L442.54 574.49 L443.04 574.52 L443.54 574.53 L444.04 574.51 L444.54 574.48 L445.04 574.48 L445.54 574.50 L446.04 574.46 L446.54 574.48 L447.04 574.49 L447.54 574.52 L448.04 574.48 L448.54 574.55 L449.04 574.48 L449.54 574.52 L450.04 574.53 L450.54 574.52 L451.04 574.52 L451.54 574.49 L452.04 574.49 L452.54 574.52 L453.04 574.50 L453.54 574.45 L454.04 574.54 L454.54 574.55 L455.04 574.47 L455.54 574.53 L456.04 574.46 L456.54 574.49 L457.04 574.46 L457.54 574.55 L458.04 574.52 L458.54 574.55 L459.04 574.47 L459.54 574.47 L460.04 574.49 L460.54 574.49 L461.04 574.49 L461.54 574.47 L462.04 574.55 L462.54 574.48 L463.04 574.55 L463.54 574.52 L464.04 574.50 L464.54 574.49 L465.04 574.49 L465.54 574.50 L466.04 574.50 L466.54 574.45 L467.04 574.52 L467.54 574.48 L468.04 574.50 L468.54 574.51 L469.04 574.49 L469.54 574.55 L470.04 574.49 L470.54 574.49 L471.04 574.55 L471.54 574.49 L472.04 574.54 L472.54 574.51 L473.04 574.50 L473.54 574.52 L474.04 574.51 L474.54 574.43 L475.04 574.37 L475.54 574.22 L476.04 574.16 L476.54 573.99 L477.04 573.83 L477.54 573.63 L478.04 573.49 L478.54 573.14 L479.04 573.09 L479.54 573.00 L480.04 572.88 L480.54 572.88 L481.04 572.93 L481.54 572.96 L482.04 572.92 L482.54 573.01 L483.04 573.24 L483.54 573.42 L484.04 573.51 L484.54 573.62 L485.04 573.89 L485.54 574.02 L486.04 574.20 L486.54 574.30 L487.04 574.44 L487.54 574.43 L488.04 574.47 L488.54 574.48 L489.04 574.49 L489.54 574.50 L490.04 574.51 L490.54 574.53 L491.04 574.50 L491.54 574.56 L492.04 574.53 L492.54 574.57 L493.04 574.56 L493.54 574.56 L494.04 574.61 L494.54 574.65 L495.04 574.61 L495.54 574.68 L496.04 574.69 L496.54 574.67 L497.04 574.67 L497.54 574.72 L498.04 574.72 L498.54 574.77 L499.04 574.76 L499.54 574.73 L500.04 574.77 L500.54 574.80 L501.04 574.78 L501.54 574.81 L502.04 574.81 L502.04 576.02 L501.54 576.03 L501.04 575.99 L500.54 575.98 L500.04 576.02 L499.54 576.02 L499.04 576.07 L498.54 576.05 L498.04 576.03 L497.54 576.11 L497.04 576.13 L496.54 576.08 L496.04 576.13 L495.54 576.16 L495.04 576.15 L494.54 576.16 L494.04 576.21 L493.54 576.24 L493.04 576.25 L492.54 576.28 L492.04 576.22 L491.54 576.22 L491.04 576.32 L490.54 576.29 L490.04 576.31 L489.54 576.30 L489.04 576.34 L488.54 576.32 L488.04 576.31 L487.54 576.33 L487.04 576.39 L486.54 576.55 L486.04 576.58 L485.54 576.83 L485.04 576.92 L484.54 577.16 L484.04 577.37 L483.54 577.38 L483.04 577.65 L482.54 577.86 L482.04 577.89 L481.54 578.04 L481.04 577.90 L480.54 578.14 L480.04 577.98 L479.54 577.96 L479.04 577.81 L478.54 577.50 L478.04 577.39 L477.54 577.32 L477.04 577.01 L476.54 576.86 L476.04 576.70 L475.54 576.52 L475.04 576.43 L474.54 576.39 L474.04 576.35 L473.54 576.27 L473.04 576.33 L472.54 576.27 L472.04 576.27 L471.54 576.25 L471.04 576.32 L470.54 576.29 L470.04 576.33 L469.54 576.28 L469.04 576.26 L468.54 576.26 L468.04 576.32 L467.54 576.29 L467.04 576.27 L466.54 576.26 L466.04 576.31 L465.54 576.35 L465.04 576.30 L464.54 576.30 L464.04 576.26 L463.54 576.34 L463.04 576.31 L462.54 576.33 L462.04 576.35 L461.54 576.29 L461.04 576.29 L460.54 576.26 L460.04 576.32 L459.54 576.28 L459.04 576.33 L458.54 576.34 L458.04 576.28 L457.54 576.28 L457.04 576.25 L456.54 576.26 L456.04 576.33 L455.54 576.29 L455.04 576.34 L454.54 576.34 L454.04 576.29 L453.54 576.28 L453.04 576.32 L452.54 576.25 L452.04 576.32 L451.54 576.25 L451.04 576.31 L450.54 576.32 L450.04 576.34 L449.54 576.25 L449.04 576.30 L448.54 576.34 L448.04 576.33 L447.54 576.28 L447.04 576.35 L446.54 576.29 L446.04 576.31 L445.54 576.26 L445.04 576.33 L444.54 576.35 L444.04 576.34 L443.54 576.25 L443.04 576.29 L442.54 576.33 L442.04 576.31 L441.54 576.27 L441.04 576.31 L440.54 576.29 L440.04 576.30 L439.54 576.29 L439.04 576.29 L438.54 576.28 L438.04 576.31 L437.54 576.34 L437.04 576.26 L436.54 576.31 L436.04 576.27 L435.54 576.33 L435.04 576.33 L434.54 576.29 L434.04 576.26 L433.54 576.26 L433.04 576.30 L432.54 576.35 L432.04 576.35 L431.54 576.28 L431.04 576.26 L430.54 576.26 L430.04 576.33 L429.54 576.29 L429.04 576.33 L428.54 576.27 L428.04 576.29 L427.54 576.35 L427.04 576.35 L426.54 576.31 L426.04 576.33 L425.54 576.31 L425.04 576.34 L424.54 576.35 L424.04 576.25 L423.54 576.28 L423.04 576.34 L422.54 576.30 L422.04 576.28 L421.54 576.34 L421.04 576.31 L420.54 576.29 L420.04 576.29 L419.54 576.30 L419.04 576.30 L418.54 576.26 L418.04 576.33 L417.54 576.25 L417.04 576.28 L416.54 576.35 L416.04 576.26 L415.54 576.26 L415.04 576.32 L414.54 576.30 L414.04 576.26 L413.54 576.31 L413.04 576.30 L412.54 576.35 L412.04 576.26 L411.54 576.32 L411.04 576.28 L410.54 576.29 L410.04 576.33 L409.54 576.32 L409.04 576.32 L408.54 576.26 L408.04 576.33 L407.54 576.25 L407.04 576.35 L406.54 576.32 L406.04 576.26 L405.54 576.31 L405.04 576.28 L404.54 576.27 L404.04 576.28 L403.54 576.29 L403.04 576.34 L402.54 576.28 L402.04 576.34 L401.54 576.28 L401.04 576.28 L400.54 576.30 L400.04 576.33 L399.54 576.31 L399.04 576.31 L398.54 576.25 L398.04 576.32 L397.54 576.34 L397.04 576.34 L396.54 576.28 L396.04 576.28 L395.54 576.28 L395.04 576.31 L394.54 576.33 L394.04 576.35 L393.54 576.27 L393.04 576.26 L392.54 576.25 L392.04 576.34 L391.54 576.25 L391.04 576.27 L390.54 576.27 L390.04 576.31 L389.54 576.30 L389.04 576.25 L388.54 576.27 L388.04 576.35 L387.54 576.26 L387.04 576.26 L386.54 576.30 L386.04 576.32 L385.54 576.33 L385.04 576.27 L384.54 576.25 L384.04 576.32 L383.54 576.30 L383.04 576.28 L382.54 576.35 L382.04 576.33 L381.54 576.40 L381.04 576.49 L380.54 576.58 L380.04 576.54 L379.54 576.69 L379.04 576.74 L378.54 576.72 L378.04 576.78 L377.54 576.94 L377.04 576.90 L376.54 576.90 L376.04 576.87 L375.54 576.79 L375.04 576.92 L374.54 576.73 L374.04 576.70 L373.54 576.66 L373.04 576.56 L372.54 576.55 L372.04 576.45 L371.54 576.48 L371.04 576.44 L370.54 576.38 L370.04 576.35 L369.54 576.31 L369.04 576.30 L368.54 576.34 L368.04 576.30 L367.54 576.32 L367.04 576.30 L366.54 576.26 L366.04 576.31 L365.54 576.28 L365.04 576.29 L364.54 576.29 L364.04 576.34 L363.54 576.31 L363.04 576.28 L362.54 576.33 L362.04 576.27 L361.54 576.30 L361.04 576.35 L360.54 576.28 L360.04 576.32 L359.54 576.27 L359.04 576.34 L358.54 576.33 L358.04 576.28 L357.54 576.25 L357.04 576.32 L356.54 576.27 L356.04 576.25 L355.54 576.32 L355.04 576.27 L354.54 576.35 L354.04 576.26 L353.54 576.30 L353.04 576.35 L352.54 576.35 L352.04 576.27 L351.54 576.26 L351.04 576.27 L350.54 576.32 L350.04 576.28 L349.54 576.34 L349.04 576.27 L348.54 576.33 L348.04 576.34 L347.54 576.32 L347.04 576.30 L346.54 576.28 L346.04 576.33 L345.54 576.32 L345.04 576.25 L344.54 576.30 L344.04 576.33 L343.54 576.26 L343.04 576.31 L342.54 576.28 L342.04 576.34 L341.54 576.34 L341.04 576.31 L340.54 576.27 L340.04 576.34 L339.54 576.33 L339.04 576.31 L338.54 576.34 L338.04 576.26 L337.54 576.32 L337.04 576.26 L336.54 576.30 L336.04 576.34 L335.54 576.26 L335.04 576.34 L334.54 576.27 L334.04 576.26 L333.54 576.26 L333.04 576.33 L332.54 576.34 L332.04 576.27 L331.54 576.25 L331.04 576.30 L330.54 576.30 L330.04 576.31 L329.54 576.29 L329.04 576.32 L328.54 576.32 L328.04 576.34 L327.54 576.30 L327.04 576.25 L326.54 576.27 L326.04 576.32 L325.54 576.30 L325.04 576.34 L324.54 576.35 L324.04 576.31 L323.54 576.29 L323.04 576.34 L322.54 576.27 L322.04 576.28 L321.54 576.27 L321.04 576.32 L320.54 576.25 L320.04 576.30 L319.54 576.34 L319.04 576.31 L318.54 576.34 L318.04 576.28 L317.54 576.25 L317.04 576.34 L316.54 576.28 L316.04 576.28 L315.54 576.33 L315.04 576.31 L314.54 576.32 L314.04 576.29 L313.54 576.25 L313.04 576.31 L312.54 576.33 L312.04 576.26 L311.54 576.25 L311.04 576.29 L310.54 576.25 L310.04 576.27 L309.54 576.34 L309.04 576.28 L308.54 576.34 L308.04 576.32 L307.54 576.34 L307.04 576.32 L306.54 576.26 L306.04 576.35 L305.54 576.31 L305.04 576.25 L304.54 576.27 L304.04 576.31 L303.54 576.31 L303.04 576.31 L302.54 576.27 L302.04 576.26 L301.54 576.34 L301.04 576.28 L300.54 576.30 L300.04 576.32 L299.54 576.26 L299.04 576.33 L298.54 576.29 L298.04 576.29 L297.54 576.32 L297.04 576.26 L296.54 576.27 L296.04 576.29 L295.54 576.29 L295.04 576.32 L294.54 576.25 L294.04 576.32 L293.54 576.26 L293.04 576.26 L292.54 576.28 L292.04 576.29 L291.54 576.33 L291.04 576.32 L290.54 576.25 L290.04 576.25 L289.54 576.35 L289.04 576.30 L288.54 576.32 L288.04 576.33 L287.54 576.30 L287.04 576.30 L286.54 576.25 L286.04 576.25 L285.54 576.32 L285.04 576.29 L284.54 576.32 L284.04 576.34 L283.54 576.25 L283.04 576.29 L282.54 576.33 L282.04 576.28 L281.54 576.26 L281.04 576.33 L280.54 576.31 L280.04 576.27 L279.54 576.35 L279.04 576.28 L278.54 576.34 L278.04 576.30 L277.54 576.28 L277.04 576.33 L276.54 576.33 L276.04 576.35 L275.54 576.32 L275.04 576.33 L274.54 576.27 L274.04 576.34 L273.54 576.26 L273.04 576.29 L272.54 576.30 L272.04 576.26 L271.54 576.28 L271.04 576.27 L270.54 576.32 L270.04 576.32 L269.54 576.31 L269.04 576.30 L268.54 576.35 L268.04 576.34 L267.54 576.31 L267.04 576.33 L266.54 576.26 L266.04 576.27 L265.54 576.32 L265.04 576.32 L264.54 576.30 L264.04 576.35 L263.54 576.26 L263.04 576.33 L262.54 576.32 L262.04 576.34 L261.54 576.25 L261.04 576.31 L260.54 576.28 L260.04 576.34 L259.54 576.30 L259.04 576.30 L258.54 576.32 L258.04 576.29 L257.54 576.27 L257.04 576.27 L256.54 576.30 L256.04 576.33 L255.54 576.32 L255.04 576.31 L254.54 576.28 L254.04 576.37 L253.54 576.30 L253.04 576.36 L252.54 576.40 L252.04 576.36 L251.54 576.44 L251.04 576.47 L250.54 576.53 L250.04 576.49 L249.54 576.50 L249.04 576.60 L248.54 576.58 L248.04 576.57 L247.54 576.67 L247.04 576.65 L246.54 576.65 L246.04 576.65 L245.54 576.78 L245.04 576.80 L244.54 576.82 L244.04 576.71 L243.54 576.81 L243.04 576.74 L242.54 576.90 L242.04 576.86 L241.54 576.92 L241.04 576.83 L240.54 576.95 L240.04 576.92 L239.54 576.86 L239.04 576.90 L238.54 576.89 L238.04 576.87 L237.54 576.90 L237.04 576.85 L236.54 576.83 L236.04 576.96 L235.54 576.95 L235.04 576.86 L234.54 576.78 L234.04 576.88 L233.54 576.82 L233.04 576.79 L232.54 576.87 L232.04 576.84 L231.54 576.84 L231.04 576.87 L230.54 576.76 L230.04 576.68 L229.54 576.74 L229.04 576.71 L228.54 576.71 L228.04 576.77 L227.54 576.69 L227.04 576.76 L226.54 576.71 L226.04 576.74 L225.54 576.66 L225.04 576.70 L224.54 576.59 L224.04 576.69 L223.54 576.53 L223.04 576.61 L222.54 576.61 L222.04 576.56 L221.54 576.51 L221.04 576.59 L220.54 576.50 L220.04 576.56 L219.54 576.52 L219.04 576.50 L218.54 576.58 L218.04 576.54 L217.54 576.49 L217.04 576.53 L216.54 576.51 L216.04 576.46 L215.54 576.44 L215.04 576.55 L214.54 576.55 L214.04 576.51 L213.54 576.57 L213.04 576.58 L212.54 576.58 L212.04 576.54 L211.54 576.54 L211.04 576.55 L210.54 576.49 L210.04 576.56 L209.54 576.58 L209.04 576.54 L208.54 576.65 L208.04 576.65 L207.54 576.62 L207.04 576.57 L206.54 576.70 L206.04 576.65 L205.54 576.63 L205.04 576.69 L204.54 576.72 L204.04 576.78 L203.54 576.78 L203.04 576.67 L202.54 576.79 L202.04 576.76 L201.54 576.86 L201.04 576.77 L200.54 576.78 L200.04 576.89 L199.54 576.92 L199.04 576.85 L198.54 576.87 L198.04 576.96 L197.54 576.86 L197.04 576.99 L196.54 576.94 L196.04 576.86 L195.54 576.96 L195.04 577.04 L194.54 576.89 L194.04 576.93 L193.54 576.97 L193.04 577.06 L192.54 576.90 L192.04 577.07 L191.54 576.90 L191.04 576.92 L190.54 576.91 L190.04 577.01 L189.54 576.95 L189.04 577.00 L188.54 577.10 L188.04 577.23 L187.54 577.32 L187.04 577.34 L186.54 577.45 L186.04 577.62 L185.54 577.59 L185.04 577.67 L184.54 577.88 L184.04 577.96 L183.54 577.94 L183.04 578.08 L182.54 577.84 L182.04 577.92 L181.54 577.99 L181.04 578.06 L180.54 577.94 L180.04 577.89 L179.54 577.76 L179.04 577.68 L178.54 577.73 L178.04 577.58 L177.54 577.61 L177.04 577.63 L176.54 577.42 L176.04 577.49 L175.54 577.51 L175.04 577.46 L174.54 577.47 L174.04 577.43 L173.54 577.33 L173.04 577.33 L172.54 577.39 L172.04 577.29 L171.54 577.34 L171.04 577.32 L170.54 577.15 L170.04 577.18 L169.54 577.13 L169.04 577.05 L168.54 577.17 L168.04 576.99 L167.54 577.10 L167.04 576.90 L166.54 576.87 L166.04 576.98 L165.54 576.84 L165.04 576.95 L164.54 576.90 L164.04 576.89 L163.54 576.92 L163.04 576.83 L162.54 576.91 L162.04 577.03 L161.54 577.05 L161.04 577.05 L160.54 577.03 L160.04 576.99 L159.54 577.14 L159.04 577.12 L158.54 577.23 L158.04 577.22 L157.54 577.25 L157.04 577.19 L156.54 577.35 L156.04 577.32 L155.54 577.43 L155.04 577.28 L154.54 577.45 L154.04 577.41 L153.54 577.36 L153.04 577.41 L152.54 577.61 L152.04 577.51 L151.54 577.65 L151.04 577.68 L150.54 577.61 L150.04 577.51 L149.54 577.60 L149.04 577.68 L148.54 577.57 L148.04 577.59 L147.54 577.62 L147.04 577.73 L146.54 577.68 L146.04 577.66 L145.54 577.80 L145.04 577.99 L144.54 577.96 L144.04 577.86 L143.54 577.98 L143.04 578.27 L142.54 578.23 L142.04 578.33 L141.54 578.17 L141.04 578.30 L140.54 578.48 L140.04 578.55 L139.54 578.27 L139.04 578.58 L138.54 578.50 L138.04 578.33 L137.54 578.37 L137.04 578.27 L136.54 578.46 L136.04 578.33 L135.54 578.31 L135.04 578.45 L134.54 578.59 L134.04 578.52 L133.54 578.56 L133.04 578.42 L132.54 578.46 L132.04 578.57 L131.54 578.82 L131.04 578.53 L130.54 578.78 L130.04 578.67 L129.54 578.67 L129.04 578.68 L128.54 578.86 L128.04 578.77 L127.54 578.92 L127.04 578.71 L126.54 578.93 L126.04 579.13 L125.54 578.97 L125.04 578.96 L124.54 579.10 L124.04 579.20 L123.54 579.63 L123.04 579.37 L122.54 579.72 L122.04 579.65 L121.54 579.84 L121.04 579.85 L120.54 579.84 L120.04 580.05 L119.54 579.88 L119.04 580.17 L118.54 579.93 L118.04 580.17 L117.54 580.42 L117.04 580.37 L116.54 580.24 L116.04 580.52 L115.54 580.57 L115.04 580.89 L114.54 580.62 L114.04 581.08 L113.54 581.04 L113.04 581.05 L112.54 580.91 L112.04 581.44 L111.54 581.26 L111.04 581.80 L110.54 581.96 L110.04 581.74 L109.54 582.23 L109.04 582.63 L108.54 582.03 L108.04 582.22 L107.54 582.50 L107.04 582.88 L106.54 582.18 L106.04 582.42 L105.54 582.13 L105.04 582.56 L104.54 581.81 L104.04 581.82 L103.54 582.15 L103.04 581.92 L102.54 581.47 L102.04 581.66 L101.54 581.18 L101.04 581.14 L100.54 581.51 L100.04 581.27 L99.54 581.66 L99.04 581.25 L98.54 581.07 L98.04 581.08 L97.54 581.03 L97.04 581.48 L96.54 581.22 L96.04 580.97 L95.54 580.91 L95.04 581.53 L94.54 581.26 L94.04 581.61 L93.54 581.52 L93.04 582.14 L92.54 582.82 L92.04 583.03 L91.54 582.99 L91.04 583.77 L90.54 583.81 L90.04 583.71 L89.54 584.40 L89.04 584.17 L88.54 584.48 L88.04 583.69 L87.54 584.38 L87.04 584.34 L86.54 584.25 L86.04 584.35 L85.54 583.61 L85.04 583.68 L84.54 583.73 L84.04 583.57 L83.54 584.18 L83.04 583.44 L82.54 583.33 L82.04 584.00 L81.54 583.10 L81.04 583.45 L80.54 582.79 L80.04 582.68 L79.54 582.27 L79.04 581.60 L78.54 581.46 L78.04 581.19 L77.54 580.97 L77.04 580.42 L76.54 580.65 L76.04 580.07 L75.54 579.85 L75.04 579.62 L74.54 579.40 L74.04 578.85 L73.54 578.33 L73.04 578.10 L72.54 577.71 L72.04 577.81 L71.54 577.67 L71.04 577.67 L70.54 577.94 L70.04 577.73 L69.54 577.89 L69.04 577.75 L68.54 577.93 L68.04 577.86 L67.54 577.89 L67.04 577.72 L66.54 577.91 L66.04 577.90 L65.54 578.11 L65.04 578.42 L64.54 578.39 L64.04 578.64 L63.54 578.69 L63.04 579.04 L62.54 578.86 L62.04 578.96 L61.54 579.19 L61.04 579.14 L60.54 578.83 L60.04 579.07 L59.54 579.10 L59.04 579.01 L58.54 579.38 L58.04 579.21 L57.54 579.13 L57.04 579.40 L56.54 579.38 L56.04 579.17 L55.54 579.25 L55.04 579.25 L54.54 579.44 L54.04 579.17 L53.54 579.33 L53.04 579.42 L52.54 579.39 L52.04 579.27 L51.54 579.21 L51.04 579.18 L50.54 579.19 L50.04 579.38 L49.54 579.25 L49.04 579.41 L48.54 579.33 L48.04 579.03 L47.54 579.30 L47.04 579.27 L46.54 579.07 L46.04 579.06 L45.54 578.94 L45.04 578.78 L44.54 578.65 L44.04 578.72 L43.54 578.73 L43.04 578.34 L42.54 578.37 L42.04 578.23 L41.54 578.57 L41.04 578.26 L40.54 578.39 L40.04 578.14 L39.54 577.77 L39.04 577.75 L38.54 577.52 L38.04 577.52 L37.54 577.39 L37.04 577.43 L36.54 577.25 L36.04 577.35 L35.54 577.05 L35.04 577.06 L34.54 576.93 L34.04 576.69 L33.54 576.63 L33.04 576.49 L32.54 576.43 L32.04 576.38 L31.54 576.26 L31.04 576.30 L30.54 576.26 L30.04 576.32 L29.54 576.33 L29.04 576.30 L28.54 576.24 L28.04 576.22 L27.54 576.18 L27.04 576.16 L26.54 576.20 L26.04 576.16 L25.54 576.14 L25.04 576.13 L24.54 576.04 L24.04 576.07 L23.54 576.02 L23.04 575.97 L22.54 576.00 L22.04 575.93 L21.54 575.91 L21.04 575.87 L20.54 575.90 L20.04 575.85 L19.54 575.82 L19.04 575.84 L18.54 575.83 L18.04 575.79 L17.54 575.81 L17.04 575.78Z" fill="#850a8c" filter="url(#bl1)"/>
<line x1="144.02" y1="575.4" x2="500.372" y2="575.4" stroke="#6e1476" stroke-width="1.1" opacity="0.85"/>
<rect x="19.5" y="593.75" width="480.50" height="60.75" fill="#060606"/>
<rect x="26.00" y="596.75" width="11" height="5" fill="#fff"/>
<rect x="26.00" y="648.9" width="11" height="5" fill="#fff"/>
<rect x="45.00" y="596.75" width="11" height="5" fill="#fff"/>
<rect x="45.00" y="648.9" width="11" height="5" fill="#fff"/>
<rect x="64.50" y="596.75" width="11" height="5" fill="#fff"/>
<rect x="64.50" y="648.9" width="11" height="5" fill="#fff"/>
<rect x="84.00" y="596.75" width="11" height="5" fill="#fff"/>
<rect x="84.00" y="648.9" width="11" height="5" fill="#fff"/>
<use href="#sA" x="22.50" y="604.50" width="76.25" height="41.00"/><rect x="22.50" y="604.50" width="76.25" height="41.00" fill="#8e8780" opacity="0.6"/>
<rect x="22.50" y="602.90" width="76.25" height="0.9" fill="#9a9590"/>
<rect x="22.50" y="604.50" width="76.25" height="41.00" fill="none" stroke="#8a8580" stroke-width="0.6" opacity="0.7"/>
<rect x="106.50" y="596.75" width="11" height="5" fill="#fff"/>
<rect x="106.50" y="648.9" width="11" height="5" fill="#fff"/>
<rect x="125.50" y="596.75" width="11" height="5" fill="#fff"/>
<rect x="125.50" y="648.9" width="11" height="5" fill="#fff"/>
<rect x="145.00" y="596.75" width="11" height="5" fill="#fff"/>
<rect x="145.00" y="648.9" width="11" height="5" fill="#fff"/>
<rect x="164.50" y="596.75" width="11" height="5" fill="#fff"/>
<rect x="164.50" y="648.9" width="11" height="5" fill="#fff"/>
<use href="#sA" x="103.00" y="604.50" width="75.00" height="41.00"/><rect x="103.00" y="604.50" width="75.00" height="41.00" fill="#8e8780" opacity="0.6"/>
<rect x="103.00" y="602.90" width="75.00" height="0.9" fill="#9a9590"/>
<rect x="103.00" y="604.50" width="75.00" height="41.00" fill="none" stroke="#8a8580" stroke-width="0.6" opacity="0.7"/>
<rect x="186.00" y="596.75" width="11" height="5" fill="#fff"/>
<rect x="186.00" y="648.9" width="11" height="5" fill="#fff"/>
<rect x="205.00" y="596.75" width="11" height="5" fill="#fff"/>
<rect x="205.00" y="648.9" width="11" height="5" fill="#fff"/>
<rect x="224.50" y="596.75" width="11" height="5" fill="#fff"/>
<rect x="224.50" y="648.9" width="11" height="5" fill="#fff"/>
<rect x="244.00" y="596.75" width="11" height="5" fill="#fff"/>
<rect x="244.00" y="648.9" width="11" height="5" fill="#fff"/>
<use href="#sA" x="182.50" y="604.50" width="76.25" height="41.00"/>
<rect x="267.25" y="596.75" width="11" height="5" fill="#fff"/>
<rect x="267.25" y="648.9" width="11" height="5" fill="#fff"/>
<rect x="286.25" y="596.75" width="11" height="5" fill="#fff"/>
<rect x="286.25" y="648.9" width="11" height="5" fill="#fff"/>
<rect x="305.75" y="596.75" width="11" height="5" fill="#fff"/>
<rect x="305.75" y="648.9" width="11" height="5" fill="#fff"/>
<rect x="325.25" y="596.75" width="11" height="5" fill="#fff"/>
<rect x="325.25" y="648.9" width="11" height="5" fill="#fff"/>
<use href="#sB" x="263.75" y="604.50" width="73.75" height="41.00"/>
<rect x="344.75" y="596.75" width="11" height="5" fill="#fff"/>
<rect x="344.75" y="648.9" width="11" height="5" fill="#fff"/>
<rect x="363.75" y="596.75" width="11" height="5" fill="#fff"/>
<rect x="363.75" y="648.9" width="11" height="5" fill="#fff"/>
<rect x="383.25" y="596.75" width="11" height="5" fill="#fff"/>
<rect x="383.25" y="648.9" width="11" height="5" fill="#fff"/>
<rect x="402.75" y="596.75" width="11" height="5" fill="#fff"/>
<rect x="402.75" y="648.9" width="11" height="5" fill="#fff"/>
<use href="#sB" x="341.25" y="604.50" width="75.00" height="41.00"/><rect x="341.25" y="604.50" width="75.00" height="41.00" fill="#8e8780" opacity="0.6"/>
<rect x="341.25" y="602.90" width="75.00" height="0.9" fill="#9a9590"/>
<rect x="341.25" y="604.50" width="75.00" height="41.00" fill="none" stroke="#8a8580" stroke-width="0.6" opacity="0.7"/>
<rect x="424.00" y="596.75" width="11" height="5" fill="#fff"/>
<rect x="424.00" y="648.9" width="11" height="5" fill="#fff"/>
<rect x="443.00" y="596.75" width="11" height="5" fill="#fff"/>
<rect x="443.00" y="648.9" width="11" height="5" fill="#fff"/>
<rect x="462.50" y="596.75" width="11" height="5" fill="#fff"/>
<rect x="462.50" y="648.9" width="11" height="5" fill="#fff"/>
<rect x="482.00" y="596.75" width="11" height="5" fill="#fff"/>
<rect x="482.00" y="648.9" width="11" height="5" fill="#fff"/>
<use href="#sB" x="420.50" y="604.50" width="75.75" height="41.00"/><rect x="420.50" y="604.50" width="75.75" height="41.00" fill="#8e8780" opacity="0.6"/>
<rect x="420.50" y="602.90" width="75.75" height="0.9" fill="#9a9590"/>
<rect x="420.50" y="604.50" width="75.75" height="41.00" fill="none" stroke="#8a8580" stroke-width="0.6" opacity="0.7"/>
<line x1="261.7" y1="584.5" x2="261.7" y2="682.5" stroke="#e51c1c" stroke-width="2" stroke-dasharray="5.2 3"/>
<g fill="none" stroke="#f01818"><circle cx="256.28" cy="563.47" r="2.85" stroke-width="1.66"/><circle cx="267.02" cy="564.04" r="2.85" stroke-width="1.66"/><path d="M258.18 566.13 L261.60 570.50 L265.12 583.99" stroke-width="2.18" stroke-linejoin="round"/><path d="M265.12 566.51 L261.60 570.50 L258.09 583.99" stroke-width="2.18" stroke-linejoin="round"/></g>
<text x="56.42" y="668.59" font-size="20.93" font-family="Liberation Serif" font-style="italic" stroke="#000" stroke-width="0.2">α</text><text transform="translate(69.80 674.04) scale(1.088 1)" font-size="16.00" font-family="Liberation Serif" stroke="#000" stroke-width="0.16">0</text>
<text x="128.92" y="668.59" font-size="20.93" font-family="Liberation Serif" font-style="italic" stroke="#000" stroke-width="0.2">α</text><text transform="translate(141.64 674.20) scale(1.196 1)" font-size="16.36" font-family="Liberation Serif" stroke="#000" stroke-width="0.16">1</text>
<circle cx="173.85" cy="667.20" r="1.35" fill="#000"/><circle cx="182.15" cy="667.20" r="1.35" fill="#000"/><circle cx="190.45" cy="667.20" r="1.35" fill="#000"/>
<text transform="translate(214.10 668.08) scale(0.968 1)" font-size="22.38" font-family="Liberation Serif" font-style="italic" stroke="#000" stroke-width="0.2">α</text><text transform="translate(226.98 672.43) scale(1.220 1)" font-size="16.87" font-family="Liberation Serif" font-style="italic" stroke="#000" stroke-width="0.16">t</text><text transform="translate(235.46 676.80) scale(1.220 1)" font-size="12.06" font-family="Liberation Serif" font-style="italic" stroke="#000" stroke-width="0.16">L</text>
<text transform="translate(291.28 673.68) scale(1.102 1)" font-size="19.84" font-family="Liberation Serif" font-style="italic" stroke="#000" stroke-width="0.2">β</text><text transform="translate(303.21 677.04) scale(1.084 1)" font-size="15.85" font-family="Liberation Serif" stroke="#000" stroke-width="0.16">0</text>
<text transform="translate(366.16 673.27) scale(0.949 1)" font-size="21.80" font-family="Liberation Serif" font-style="italic" stroke="#000" stroke-width="0.2">β</text><text transform="translate(377.09 677.60) scale(1.220 1)" font-size="16.67" font-family="Liberation Serif" stroke="#000" stroke-width="0.16">1</text>
<circle cx="414.85" cy="666.00" r="1.35" fill="#000"/><circle cx="422.65" cy="666.00" r="1.35" fill="#000"/><circle cx="430.45" cy="666.00" r="1.35" fill="#000"/>
<text transform="translate(447.26 673.27) scale(0.958 1)" font-size="21.80" font-family="Liberation Serif" font-style="italic" stroke="#000" stroke-width="0.2">β</text><text transform="translate(458.51 677.73) scale(1.220 1)" font-size="16.70" font-family="Liberation Serif" font-style="italic" stroke="#000" stroke-width="0.16">t</text><text transform="translate(467.11 681.40) scale(1.220 1)" font-size="11.91" font-family="Liberation Serif" font-style="italic" stroke="#000" stroke-width="0.16">R</text>
<rect x="37.5" y="681.3" width="460" height="30.2" fill="none" stroke="#a0a0a0" stroke-width="1"/>
<line x1="37.5" y1="681.3" x2="37.5" y2="711.5" stroke="#8a8a8a" stroke-width="1.6"/>
<text transform="translate(26.03 684.50) scale(1.035 1)" font-size="7.27" font-family="Liberation Sans" font-weight="bold" fill="#666">1</text>
<text transform="translate(26.16 712.43) scale(1.192 1)" font-size="7.07" font-family="Liberation Sans" font-weight="bold" fill="#666">0</text>
<path d="M57.5 706.7 L58.8 707.1 L60.1 707.3 L61.4 707.8 L62.7 707.1 L64.0 707.7 L65.3 704.7 L66.6 706.2 L67.9 707.8 L69.2 706.8 L70.5 707.7 L71.8 705.0 L73.1 706.2 L74.4 705.4 L75.7 706.4 L77.0 706.6 L78.3 704.6 L79.6 705.3 L80.9 705.6 L82.2 707.7 L83.5 707.2 L84.8 705.1 L86.1 707.3 L87.4 705.1 L88.7 706.7 L90.0 705.0 L91.3 704.6 L92.6 707.6 L93.9 705.3 L95.2 705.3 L96.5 707.9 L97.8 707.6 L99.1 705.6 L100.4 707.9 L101.7 706.4 L103.0 706.9 L104.3 705.3 L105.6 707.8 L106.9 706.9 L108.2 707.9 L109.5 707.6 L110.8 705.6 L112.1 705.8 L113.4 705.2 L114.7 705.1 L116.0 704.8 L117.3 705.6 L118.6 706.7 L119.9 704.6 L121.2 706.9 L122.5 705.7 L123.8 705.7 L125.1 707.4 L126.4 706.2 L127.7 705.7 L129.0 706.2 L130.3 707.0 L131.6 704.8 L132.9 707.9 L134.2 704.7 L135.5 707.1 L136.8 707.5 L138.1 704.7 L139.4 707.3 L140.7 705.8 L142.0 706.6 L143.3 704.6 L144.6 704.8 L145.9 705.2 L147.2 707.8 L148.5 705.3 L149.8 707.2 L151.1 707.8 L152.4 707.8 L153.7 705.8 L155.0 705.8 L156.3 706.4 L157.6 707.2 L158.9 705.0 L160.2 707.1 L161.5 707.3 L162.8 707.5 L164.1 704.7 L165.4 707.8 L166.7 704.9 L168.0 705.8 L169.3 706.7 L170.6 707.7 L171.9 705.8 L173.2 707.7 L174.5 706.5 L175.8 705.7 L177.1 705.7 L178.4 705.2 L179.7 704.9 L181.0 705.1 L182.3 706.9 L183.6 708.0 L184.9 705.1 L186.2 704.8 L187.5 708.0 L188.8 706.4 L190.1 706.0 L191.4 705.4 L192.7 706.6 L194.0 707.4 L195.3 706.1 L196.6 706.0 L197.9 704.8 L199.2 707.7 L200.5 704.7 L201.8 706.3 L203.1 707.5 L204.4 705.0 L205.7 707.1 L207.0 707.8 L208.3 706.7 L209.6 707.3 L210.9 705.0 L212.2 706.1 L213.5 705.1 L214.8 707.5 L216.1 705.6 L217.4 706.1 L218.7 708.0 L220.0 707.5 L221.3 707.9 L222.6 706.1 L223.9 706.3 L225.2 707.1 L226.5 706.2 L227.8 705.6 L229.1 706.0 L230.4 705.1 L231.7 705.9 L233.0 708.0 L234.3 707.9 L235.6 706.7 L236.9 706.3 L238.2 705.8 L239.5 704.9 L240.8 705.5 L242.1 707.3 L243.4 707.5 L244.7 705.8 L246.0 707.3 L247.3 707.2 L248.6 707.0 L249.9 706.9 L251.2 707.2 L252.5 705.8 L253.8 707.0 L255.1 705.6 L256.4 706.3 L257.7 707.2 L259.0 706.9 L260.3 705.6 L261.6 707.8 L262.9 706.8 L264.2 706.6 L265.5 704.6 L266.8 706.5 L268.1 705.5 L269.4 706.9 L270.7 706.2 L272.0 707.4 L273.3 706.8 L274.6 707.3 L275.9 705.8 L277.2 706.8 L278.5 707.1 L279.8 707.4 L281.1 705.8 L282.4 707.5 L283.7 707.6 L285.0 706.9 L286.3 707.9 L287.6 707.9 L288.9 706.4 L290.2 706.4 L291.5 705.2 L292.8 707.4 L294.1 707.8 L295.4 706.2 L296.7 707.0 L298.0 707.0 L299.3 707.1 L300.6 705.2 L301.9 707.3 L303.2 706.6 L304.5 706.9 L305.8 706.0 L307.1 706.7 L308.4 707.2 L309.7 706.8 L311.0 707.0 L312.3 704.7 L313.6 705.1 L314.9 706.1 L316.2 706.8 L317.5 705.3 L318.8 706.9 L320.1 706.7 L321.4 704.7 L322.7 706.2 L324.0 705.4 L325.3 704.8 L326.6 705.1 L327.9 705.7 L329.2 705.2 L330.5 705.3 L331.8 704.7 L333.1 706.2 L334.4 705.9 L335.7 706.7 L337.0 706.6 L338.3 705.4 L339.6 707.7 L340.9 704.6 L342.2 706.0 L343.5 705.5 L344.8 706.0 L346.1 705.0 L347.4 707.4 L348.7 705.9 L350.0 704.7 L351.3 706.7 L352.6 704.9 L353.9 706.5 L355.2 705.8 L356.5 706.6 L357.8 707.9 L359.1 707.4 L360.4 706.0 L361.7 707.4 L363.0 706.8 L364.3 705.9 L365.6 705.1 L366.9 706.6 L368.2 706.5 L369.5 707.9 L370.8 707.9 L372.1 706.7 L373.4 705.8 L374.7 707.6 L376.0 704.6 L377.3 705.0 L378.6 706.5 L379.9 706.7 L381.2 705.1 L382.5 706.7 L383.8 707.6 L385.1 705.9 L386.4 706.1 L387.7 705.4 L389.0 705.6 L390.3 707.9 L391.6 705.9 L392.9 707.9 L394.2 707.7 L395.5 706.6 L396.8 705.5 L398.1 707.9 L399.4 706.3 L400.7 706.0 L402.0 705.7 L403.3 707.9 L404.6 706.3 L405.9 705.6 L407.2 706.2 L408.5 705.0 L409.8 706.7 L411.1 706.1 L412.4 705.6 L413.7 707.3 L415.0 707.4 L416.3 704.6 L417.6 706.4 L418.9 705.5 L420.2 707.8 L421.5 707.3 L422.8 705.4 L424.1 705.5 L425.4 705.1 L426.7 708.0 L428.0 705.6 L429.3 706.7 L430.6 706.2 L431.9 706.8 L433.2 706.7 L434.5 707.1 L435.8 705.0 L437.1 707.2 L438.4 705.6 L439.7 706.4 L441.0 705.7 L442.3 705.6 L443.6 706.4 L444.9 706.2 L446.2 705.8 L447.5 707.1 L448.8 706.6 L450.1 704.7 L451.4 705.5 L452.7 706.1 L454.0 707.7 L455.3 707.6 L456.6 706.5 L457.9 704.6 L459.2 707.2 L460.5 706.1 L461.8 706.6 L463.1 707.0 L464.4 706.7 L465.7 706.2 L467.0 707.7 L468.3 705.9 L469.6 705.9 L470.9 707.5 L472.2 705.3 L473.5 705.6 L474.8 707.4" fill="none" stroke="#7a1a1a" stroke-width="1.4"/>
<path d="M239.2 707 L240.8 683.3 L242.4 707 Z M288.6 707 L290.2 683.3 L291.8 707 Z" fill="#5a0c0c"/>
<text transform="translate(55.71 720.92) scale(0.943 1)" font-size="7.77" font-family="Liberation Sans" fill="#777">0</text>
<text transform="translate(264.22 720.41) scale(1.449 1)" font-size="8.51" font-family="Liberation Serif" font-style="italic" fill="#777">τ</text>
<text transform="translate(474.28 719.41) scale(1.127 1)" font-size="8.51" font-family="Liberation Serif" font-style="italic" fill="#777">τ</text>
<text transform="translate(224.63 731.26) scale(1.399 1)" font-size="8.36" font-family="Liberation Sans" font-weight="bold" fill="#222">Cut Probability</text>
</svg></body></html>
